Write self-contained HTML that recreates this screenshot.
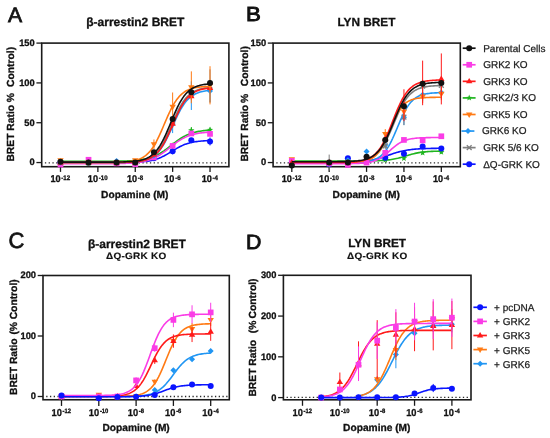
<!DOCTYPE html>
<html><head><meta charset="utf-8"><style>
html,body{margin:0;padding:0;background:#fff;}
svg{display:block;will-change:transform;}
text{font-family:"Liberation Sans", sans-serif;text-rendering:geometricPrecision;}
text[font-weight="bold"]{stroke:#111;stroke-width:0.3px;}
</style></head><body>
<svg width="550" height="438" viewBox="0 0 550 438" font-family='"Liberation Sans", sans-serif'>
<rect width="550" height="438" fill="#fff"/>
<text transform="translate(8.0,21.7) scale(1.02,1)" font-size="20.8" font-weight="normal" fill="#111" stroke="#111" stroke-width="0.75">A</text>
<text transform="translate(246.0,21.4) scale(1.09,1)" font-size="20.4" font-weight="normal" fill="#111" stroke="#111" stroke-width="0.95">B</text>
<text x="8.4" y="247.6" font-size="22" font-weight="normal" fill="#111" stroke="#111" stroke-width="0.7">C</text>
<text transform="translate(246.1,249.4) scale(1.03,1)" font-size="20.6" font-weight="normal" fill="#111" stroke="#111" stroke-width="0.9">D</text>
<text x="135.3" y="25.7" text-anchor="middle" font-size="12" font-weight="bold" fill="#111">β-arrestin2 BRET</text>
<text x="366.4" y="25.9" text-anchor="middle" font-size="11.8" font-weight="bold" fill="#111">LYN BRET</text>
<text x="136.9" y="247.5" text-anchor="middle" font-size="12" font-weight="bold" fill="#111">β-arrestin2 BRET</text>
<text transform="translate(136.1,259.2) scale(1.03,0.96)" text-anchor="middle" font-size="9.7" textLength="58.6" lengthAdjust="spacing" font-weight="bold" fill="#111" style="stroke-width:0.15px">ΔQ-GRK KO</text>
<text x="377.1" y="247.3" text-anchor="middle" font-size="11.8" font-weight="bold" fill="#111">LYN BRET</text>
<text transform="translate(377.1,259.2) scale(1.03,0.96)" text-anchor="middle" font-size="9.7" textLength="58.6" lengthAdjust="spacing" font-weight="bold" fill="#111" style="stroke-width:0.15px">ΔQ-GRK KO</text>
<rect x="41.7" y="43.1" width="187.20" height="123.60" fill="none" stroke="#1a1a1a" stroke-width="1.6"/>
<line x1="44.900000000000006" y1="162.90" x2="227.9" y2="162.90" stroke="#2a2a2a" stroke-width="1.35" stroke-dasharray="1.3 2.45"/>
<line x1="36.400000000000006" y1="162.55" x2="41.7" y2="162.55" stroke="#1a1a1a" stroke-width="1.3"/>
<text x="34.7" y="165.45" text-anchor="end" font-size="9.3" font-weight="bold" fill="#111">0</text>
<line x1="36.400000000000006" y1="122.73" x2="41.7" y2="122.73" stroke="#1a1a1a" stroke-width="1.3"/>
<text x="34.7" y="125.63" text-anchor="end" font-size="9.3" font-weight="bold" fill="#111">50</text>
<line x1="36.400000000000006" y1="82.92" x2="41.7" y2="82.92" stroke="#1a1a1a" stroke-width="1.3"/>
<text x="34.7" y="85.82" text-anchor="end" font-size="9.3" font-weight="bold" fill="#111">100</text>
<line x1="36.400000000000006" y1="43.10" x2="41.7" y2="43.10" stroke="#1a1a1a" stroke-width="1.3"/>
<text x="34.7" y="46.00" text-anchor="end" font-size="9.3" font-weight="bold" fill="#111">150</text>
<line x1="60.50" y1="166.7" x2="60.50" y2="171.89999999999998" stroke="#1a1a1a" stroke-width="1.3"/>
<text transform="translate(60.30,182.0) scale(0.93,1.0)" text-anchor="middle" font-size="9.8" font-weight="bold" fill="#111">10<tspan font-size="6.6" dx="0.8" dy="-2.4">-12</tspan></text>
<line x1="97.88" y1="166.7" x2="97.88" y2="171.89999999999998" stroke="#1a1a1a" stroke-width="1.3"/>
<text transform="translate(97.68,182.0) scale(0.93,1.0)" text-anchor="middle" font-size="9.8" font-weight="bold" fill="#111">10<tspan font-size="6.6" dx="0.8" dy="-2.4">-10</tspan></text>
<line x1="135.26" y1="166.7" x2="135.26" y2="171.89999999999998" stroke="#1a1a1a" stroke-width="1.3"/>
<text transform="translate(135.06,182.0) scale(0.93,1.0)" text-anchor="middle" font-size="9.8" font-weight="bold" fill="#111">10<tspan font-size="6.6" dx="0.8" dy="-2.4">-8</tspan></text>
<line x1="172.64" y1="166.7" x2="172.64" y2="171.89999999999998" stroke="#1a1a1a" stroke-width="1.3"/>
<text transform="translate(172.44,182.0) scale(0.93,1.0)" text-anchor="middle" font-size="9.8" font-weight="bold" fill="#111">10<tspan font-size="6.6" dx="0.8" dy="-2.4">-6</tspan></text>
<line x1="210.02" y1="166.7" x2="210.02" y2="171.89999999999998" stroke="#1a1a1a" stroke-width="1.3"/>
<text transform="translate(209.82,182.0) scale(0.93,1.0)" text-anchor="middle" font-size="9.8" font-weight="bold" fill="#111">10<tspan font-size="6.6" dx="0.8" dy="-2.4">-4</tspan></text>
<rect x="273.1" y="43.1" width="187.20" height="123.60" fill="none" stroke="#1a1a1a" stroke-width="1.6"/>
<line x1="276.3" y1="162.90" x2="459.3" y2="162.90" stroke="#2a2a2a" stroke-width="1.35" stroke-dasharray="1.3 2.45"/>
<line x1="267.8" y1="162.55" x2="273.1" y2="162.55" stroke="#1a1a1a" stroke-width="1.3"/>
<text x="266.1" y="165.45" text-anchor="end" font-size="9.3" font-weight="bold" fill="#111">0</text>
<line x1="267.8" y1="122.73" x2="273.1" y2="122.73" stroke="#1a1a1a" stroke-width="1.3"/>
<text x="266.1" y="125.63" text-anchor="end" font-size="9.3" font-weight="bold" fill="#111">50</text>
<line x1="267.8" y1="82.92" x2="273.1" y2="82.92" stroke="#1a1a1a" stroke-width="1.3"/>
<text x="266.1" y="85.82" text-anchor="end" font-size="9.3" font-weight="bold" fill="#111">100</text>
<line x1="267.8" y1="43.10" x2="273.1" y2="43.10" stroke="#1a1a1a" stroke-width="1.3"/>
<text x="266.1" y="46.00" text-anchor="end" font-size="9.3" font-weight="bold" fill="#111">150</text>
<line x1="291.80" y1="166.7" x2="291.80" y2="171.89999999999998" stroke="#1a1a1a" stroke-width="1.3"/>
<text transform="translate(291.60,182.0) scale(0.93,1.0)" text-anchor="middle" font-size="9.8" font-weight="bold" fill="#111">10<tspan font-size="6.6" dx="0.8" dy="-2.4">-12</tspan></text>
<line x1="329.18" y1="166.7" x2="329.18" y2="171.89999999999998" stroke="#1a1a1a" stroke-width="1.3"/>
<text transform="translate(328.98,182.0) scale(0.93,1.0)" text-anchor="middle" font-size="9.8" font-weight="bold" fill="#111">10<tspan font-size="6.6" dx="0.8" dy="-2.4">-10</tspan></text>
<line x1="366.56" y1="166.7" x2="366.56" y2="171.89999999999998" stroke="#1a1a1a" stroke-width="1.3"/>
<text transform="translate(366.36,182.0) scale(0.93,1.0)" text-anchor="middle" font-size="9.8" font-weight="bold" fill="#111">10<tspan font-size="6.6" dx="0.8" dy="-2.4">-8</tspan></text>
<line x1="403.94" y1="166.7" x2="403.94" y2="171.89999999999998" stroke="#1a1a1a" stroke-width="1.3"/>
<text transform="translate(403.74,182.0) scale(0.93,1.0)" text-anchor="middle" font-size="9.8" font-weight="bold" fill="#111">10<tspan font-size="6.6" dx="0.8" dy="-2.4">-6</tspan></text>
<line x1="441.32" y1="166.7" x2="441.32" y2="171.89999999999998" stroke="#1a1a1a" stroke-width="1.3"/>
<text transform="translate(441.12,182.0) scale(0.93,1.0)" text-anchor="middle" font-size="9.8" font-weight="bold" fill="#111">10<tspan font-size="6.6" dx="0.8" dy="-2.4">-4</tspan></text>
<rect x="43.0" y="275.5" width="186.30" height="124.25" fill="none" stroke="#1a1a1a" stroke-width="1.6"/>
<line x1="46.2" y1="396.50" x2="228.3" y2="396.50" stroke="#2a2a2a" stroke-width="1.35" stroke-dasharray="1.3 2.45"/>
<line x1="37.7" y1="396.50" x2="43.0" y2="396.50" stroke="#1a1a1a" stroke-width="1.3"/>
<text x="36.0" y="399.40" text-anchor="end" font-size="9.3" font-weight="bold" fill="#111">0</text>
<line x1="37.7" y1="336.00" x2="43.0" y2="336.00" stroke="#1a1a1a" stroke-width="1.3"/>
<text x="36.0" y="338.90" text-anchor="end" font-size="9.3" font-weight="bold" fill="#111">100</text>
<line x1="37.7" y1="275.50" x2="43.0" y2="275.50" stroke="#1a1a1a" stroke-width="1.3"/>
<text x="36.0" y="278.40" text-anchor="end" font-size="9.3" font-weight="bold" fill="#111">200</text>
<line x1="61.50" y1="399.75" x2="61.50" y2="405.95" stroke="#1a1a1a" stroke-width="1.3"/>
<text transform="translate(61.30,415.6) scale(0.93,1.0)" text-anchor="middle" font-size="10.0" font-weight="bold" fill="#111">10<tspan font-size="6.3" dx="0.8" dy="-2.7">-12</tspan></text>
<line x1="98.80" y1="399.75" x2="98.80" y2="405.95" stroke="#1a1a1a" stroke-width="1.3"/>
<text transform="translate(98.60,415.6) scale(0.93,1.0)" text-anchor="middle" font-size="10.0" font-weight="bold" fill="#111">10<tspan font-size="6.3" dx="0.8" dy="-2.7">-10</tspan></text>
<line x1="136.10" y1="399.75" x2="136.10" y2="405.95" stroke="#1a1a1a" stroke-width="1.3"/>
<text transform="translate(135.90,415.6) scale(0.93,1.0)" text-anchor="middle" font-size="10.0" font-weight="bold" fill="#111">10<tspan font-size="6.3" dx="0.8" dy="-2.7">-8</tspan></text>
<line x1="173.40" y1="399.75" x2="173.40" y2="405.95" stroke="#1a1a1a" stroke-width="1.3"/>
<text transform="translate(173.20,415.6) scale(0.93,1.0)" text-anchor="middle" font-size="10.0" font-weight="bold" fill="#111">10<tspan font-size="6.3" dx="0.8" dy="-2.7">-6</tspan></text>
<line x1="210.70" y1="399.75" x2="210.70" y2="405.95" stroke="#1a1a1a" stroke-width="1.3"/>
<text transform="translate(210.50,415.6) scale(0.93,1.0)" text-anchor="middle" font-size="10.0" font-weight="bold" fill="#111">10<tspan font-size="6.3" dx="0.8" dy="-2.7">-4</tspan></text>
<rect x="283.4" y="275.3" width="187.60" height="124.50" fill="none" stroke="#1a1a1a" stroke-width="1.6"/>
<line x1="286.59999999999997" y1="397.40" x2="470.0" y2="397.40" stroke="#2a2a2a" stroke-width="1.35" stroke-dasharray="1.3 2.45"/>
<line x1="278.09999999999997" y1="397.60" x2="283.4" y2="397.60" stroke="#1a1a1a" stroke-width="1.3"/>
<text x="276.4" y="400.50" text-anchor="end" font-size="9.3" font-weight="bold" fill="#111">0</text>
<line x1="278.09999999999997" y1="356.83" x2="283.4" y2="356.83" stroke="#1a1a1a" stroke-width="1.3"/>
<text x="276.4" y="359.73" text-anchor="end" font-size="9.3" font-weight="bold" fill="#111">100</text>
<line x1="278.09999999999997" y1="316.07" x2="283.4" y2="316.07" stroke="#1a1a1a" stroke-width="1.3"/>
<text x="276.4" y="318.97" text-anchor="end" font-size="9.3" font-weight="bold" fill="#111">200</text>
<line x1="278.09999999999997" y1="275.30" x2="283.4" y2="275.30" stroke="#1a1a1a" stroke-width="1.3"/>
<text x="276.4" y="278.20" text-anchor="end" font-size="9.3" font-weight="bold" fill="#111">300</text>
<line x1="302.50" y1="399.8" x2="302.50" y2="405.8" stroke="#1a1a1a" stroke-width="1.3"/>
<text transform="translate(302.30,415.6) scale(0.93,1.0)" text-anchor="middle" font-size="10.0" font-weight="bold" fill="#111">10<tspan font-size="6.3" dx="0.8" dy="-2.7">-12</tspan></text>
<line x1="339.85" y1="399.8" x2="339.85" y2="405.8" stroke="#1a1a1a" stroke-width="1.3"/>
<text transform="translate(339.65,415.6) scale(0.93,1.0)" text-anchor="middle" font-size="10.0" font-weight="bold" fill="#111">10<tspan font-size="6.3" dx="0.8" dy="-2.7">-10</tspan></text>
<line x1="377.20" y1="399.8" x2="377.20" y2="405.8" stroke="#1a1a1a" stroke-width="1.3"/>
<text transform="translate(377.00,415.6) scale(0.93,1.0)" text-anchor="middle" font-size="10.0" font-weight="bold" fill="#111">10<tspan font-size="6.3" dx="0.8" dy="-2.7">-8</tspan></text>
<line x1="414.55" y1="399.8" x2="414.55" y2="405.8" stroke="#1a1a1a" stroke-width="1.3"/>
<text transform="translate(414.35,415.6) scale(0.93,1.0)" text-anchor="middle" font-size="10.0" font-weight="bold" fill="#111">10<tspan font-size="6.3" dx="0.8" dy="-2.7">-6</tspan></text>
<line x1="451.90" y1="399.8" x2="451.90" y2="405.8" stroke="#1a1a1a" stroke-width="1.3"/>
<text transform="translate(451.70,415.6) scale(0.93,1.0)" text-anchor="middle" font-size="10.0" font-weight="bold" fill="#111">10<tspan font-size="6.3" dx="0.8" dy="-2.7">-4</tspan></text>
<text x="134.8" y="197.6" text-anchor="middle" font-size="10.2" font-weight="bold" fill="#111">Dopamine (M)</text>
<text x="366.3" y="197.6" text-anchor="middle" font-size="10.2" font-weight="bold" fill="#111">Dopamine (M)</text>
<text x="136.1" y="430.8" text-anchor="middle" font-size="10.2" font-weight="bold" fill="#111">Dopamine (M)</text>
<text x="376.8" y="430.8" text-anchor="middle" font-size="10.2" font-weight="bold" fill="#111">Dopamine (M)</text>
<text transform="translate(13.6,161.6) rotate(-90)" font-size="10.3" font-weight="bold" fill="#111">BRET Ratio</text>
<text transform="translate(13.6,102.3) rotate(-90)" font-size="10.3" font-weight="bold" fill="#111">%</text>
<text transform="translate(13.6,46.900000000000006) rotate(-90)" text-anchor="end" font-size="10.3" font-weight="bold" fill="#111">Control)</text>
<text transform="translate(248.0,161.6) rotate(-90)" font-size="10.3" font-weight="bold" fill="#111">BRET Ratio</text>
<text transform="translate(248.0,103.1) rotate(-90)" font-size="10.3" font-weight="bold" fill="#111">%</text>
<text transform="translate(248.0,46.1) rotate(-90)" text-anchor="end" font-size="10.3" font-weight="bold" fill="#111">Control)</text>
<text transform="translate(16.8,395.0) rotate(-90)" font-size="10.3" font-weight="bold" fill="#111">BRET Ratio</text>
<text transform="translate(16.8,334.6) rotate(-90)" font-size="10.3" font-weight="bold" fill="#111">(%</text>
<text transform="translate(16.8,279.3) rotate(-90)" text-anchor="end" font-size="10.3" font-weight="bold" fill="#111">Control)</text>
<text transform="translate(256.0,396.59999999999997) rotate(-90)" font-size="10.3" font-weight="bold" fill="#111">BRET Ratio</text>
<text transform="translate(256.0,333.3) rotate(-90)" font-size="10.3" font-weight="bold" fill="#111">(%</text>
<text transform="translate(256.0,278.5) rotate(-90)" text-anchor="end" font-size="10.3" font-weight="bold" fill="#111">Control)</text>
<line x1="172.64" y1="147.82" x2="172.64" y2="143.04" stroke="#1fb51f" stroke-width="1"/>
<line x1="191.33" y1="132.69" x2="191.33" y2="127.11" stroke="#1fb51f" stroke-width="1"/>
<line x1="210.02" y1="132.29" x2="210.02" y2="127.51" stroke="#1fb51f" stroke-width="1"/>
<polyline points="60.50,161.35 61.75,161.35 62.99,161.35 64.24,161.35 65.48,161.35 66.73,161.35 67.98,161.35 69.22,161.35 70.47,161.35 71.71,161.35 72.96,161.35 74.21,161.35 75.45,161.35 76.70,161.35 77.94,161.35 79.19,161.35 80.44,161.35 81.68,161.35 82.93,161.35 84.17,161.35 85.42,161.35 86.67,161.35 87.91,161.35 89.16,161.35 90.40,161.34 91.65,161.34 92.90,161.34 94.14,161.34 95.39,161.34 96.63,161.33 97.88,161.33 99.13,161.33 100.37,161.33 101.62,161.32 102.86,161.32 104.11,161.31 105.36,161.31 106.60,161.30 107.85,161.29 109.09,161.29 110.34,161.28 111.59,161.27 112.83,161.25 114.08,161.24 115.32,161.23 116.57,161.21 117.82,161.19 119.06,161.17 120.31,161.14 121.55,161.12 122.80,161.09 124.05,161.05 125.29,161.01 126.54,160.97 127.78,160.92 129.03,160.86 130.28,160.80 131.52,160.73 132.77,160.64 134.01,160.55 135.26,160.45 136.51,160.34 137.75,160.21 139.00,160.07 140.24,159.91 141.49,159.73 142.74,159.52 143.98,159.30 145.23,159.05 146.47,158.78 147.72,158.47 148.97,158.13 150.21,157.76 151.46,157.34 152.70,156.89 153.95,156.40 155.20,155.86 156.44,155.28 157.69,154.66 158.93,153.98 160.18,153.26 161.43,152.50 162.67,151.69 163.92,150.85 165.16,149.96 166.41,149.05 167.66,148.11 168.90,147.15 170.15,146.17 171.39,145.19 172.64,144.21 173.89,143.25 175.13,142.29 176.38,141.36 177.62,140.46 178.87,139.59 180.12,138.76 181.36,137.97 182.61,137.22 183.85,136.52 185.10,135.86 186.35,135.26 187.59,134.69 188.84,134.18 190.08,133.70 191.33,133.26 192.58,132.87 193.82,132.51 195.07,132.18 196.31,131.89 197.56,131.62 198.81,131.38 200.05,131.17 201.30,130.98 202.54,130.81 203.79,130.65 205.04,130.52 206.28,130.39 207.53,130.28 208.77,130.19 210.02,130.10" fill="none" stroke="#1fb51f" stroke-width="1.6" stroke-linejoin="round"/>
<polygon points="60.50,158.45 61.32,160.62 63.64,160.73 61.83,162.19 62.44,164.42 60.50,163.15 58.56,164.42 59.17,162.19 57.36,160.73 59.68,160.62" fill="#1fb51f"/>
<polygon points="88.53,160.05 89.36,162.21 91.67,162.33 89.87,163.78 90.47,166.02 88.53,164.75 86.60,166.02 87.20,163.78 85.40,162.33 87.71,162.21" fill="#1fb51f"/>
<polygon points="116.57,159.25 117.39,161.42 119.71,161.53 117.90,162.98 118.51,165.22 116.57,163.95 114.63,165.22 115.24,162.98 113.43,161.53 115.75,161.42" fill="#1fb51f"/>
<polygon points="135.26,159.25 136.08,161.42 138.40,161.53 136.59,162.98 137.20,165.22 135.26,163.95 133.32,165.22 133.93,162.98 132.12,161.53 134.44,161.42" fill="#1fb51f"/>
<polygon points="153.95,154.47 154.77,156.64 157.09,156.75 155.28,158.20 155.89,160.44 153.95,159.17 152.01,160.44 152.62,158.20 150.81,156.75 153.13,156.64" fill="#1fb51f"/>
<polygon points="172.64,142.13 173.46,144.30 175.78,144.41 173.97,145.86 174.58,148.10 172.64,146.83 170.70,148.10 171.31,145.86 169.50,144.41 171.82,144.30" fill="#1fb51f"/>
<polygon points="191.33,127.00 192.15,129.17 194.47,129.28 192.66,130.73 193.27,132.97 191.33,131.70 189.39,132.97 190.00,130.73 188.19,129.28 190.51,129.17" fill="#1fb51f"/>
<polygon points="210.02,126.60 210.84,128.77 213.16,128.88 211.35,130.33 211.96,132.57 210.02,131.30 208.08,132.57 208.69,130.33 206.88,128.88 209.20,128.77" fill="#1fb51f"/>
<line x1="172.64" y1="154.35" x2="172.64" y2="147.98" stroke="#0a14ff" stroke-width="1"/>
<line x1="191.33" y1="142.64" x2="191.33" y2="137.86" stroke="#0a14ff" stroke-width="1"/>
<line x1="210.02" y1="145.43" x2="210.02" y2="137.47" stroke="#0a14ff" stroke-width="1"/>
<polyline points="60.50,162.55 61.75,162.55 62.99,162.55 64.24,162.55 65.48,162.55 66.73,162.55 67.98,162.55 69.22,162.55 70.47,162.55 71.71,162.55 72.96,162.55 74.21,162.55 75.45,162.55 76.70,162.55 77.94,162.55 79.19,162.55 80.44,162.55 81.68,162.55 82.93,162.55 84.17,162.55 85.42,162.55 86.67,162.55 87.91,162.55 89.16,162.55 90.40,162.55 91.65,162.55 92.90,162.55 94.14,162.55 95.39,162.55 96.63,162.54 97.88,162.54 99.13,162.54 100.37,162.54 101.62,162.54 102.86,162.54 104.11,162.54 105.36,162.54 106.60,162.53 107.85,162.53 109.09,162.53 110.34,162.53 111.59,162.52 112.83,162.52 114.08,162.51 115.32,162.51 116.57,162.50 117.82,162.49 119.06,162.49 120.31,162.48 121.55,162.46 122.80,162.45 124.05,162.44 125.29,162.42 126.54,162.40 127.78,162.38 129.03,162.36 130.28,162.33 131.52,162.29 132.77,162.26 134.01,162.21 135.26,162.16 136.51,162.11 137.75,162.04 139.00,161.97 140.24,161.89 141.49,161.79 142.74,161.69 143.98,161.56 145.23,161.43 146.47,161.27 147.72,161.09 148.97,160.89 150.21,160.67 151.46,160.41 152.70,160.13 153.95,159.82 155.20,159.47 156.44,159.08 157.69,158.66 158.93,158.20 160.18,157.69 161.43,157.15 162.67,156.56 163.92,155.94 165.16,155.28 166.41,154.58 167.66,153.86 168.90,153.12 170.15,152.36 171.39,151.59 172.64,150.82 173.89,150.06 175.13,149.31 176.38,148.58 177.62,147.87 178.87,147.19 180.12,146.55 181.36,145.94 182.61,145.38 183.85,144.85 185.10,144.37 186.35,143.93 187.59,143.52 188.84,143.15 190.08,142.82 191.33,142.53 192.58,142.26 193.82,142.02 195.07,141.81 196.31,141.62 197.56,141.45 198.81,141.31 200.05,141.18 201.30,141.06 202.54,140.96 203.79,140.87 205.04,140.79 206.28,140.72 207.53,140.66 208.77,140.61 210.02,140.57" fill="none" stroke="#0a14ff" stroke-width="1.6" stroke-linejoin="round"/>
<circle cx="60.50" cy="162.55" r="3.00" fill="#0a14ff"/>
<circle cx="88.53" cy="162.55" r="3.00" fill="#0a14ff"/>
<circle cx="116.57" cy="162.55" r="3.00" fill="#0a14ff"/>
<circle cx="135.26" cy="162.55" r="3.00" fill="#0a14ff"/>
<circle cx="153.95" cy="158.17" r="3.00" fill="#0a14ff"/>
<circle cx="172.64" cy="151.16" r="3.00" fill="#0a14ff"/>
<circle cx="191.33" cy="140.25" r="3.00" fill="#0a14ff"/>
<circle cx="210.02" cy="141.45" r="3.00" fill="#0a14ff"/>
<line x1="172.64" y1="147.50" x2="172.64" y2="144.31" stroke="#fa3ce6" stroke-width="1"/>
<line x1="191.33" y1="135.87" x2="191.33" y2="131.09" stroke="#fa3ce6" stroke-width="1"/>
<line x1="210.02" y1="136.27" x2="210.02" y2="131.49" stroke="#fa3ce6" stroke-width="1"/>
<polyline points="60.50,163.74 61.75,163.74 62.99,163.74 64.24,163.74 65.48,163.74 66.73,163.74 67.98,163.74 69.22,163.74 70.47,163.74 71.71,163.74 72.96,163.74 74.21,163.74 75.45,163.74 76.70,163.74 77.94,163.74 79.19,163.74 80.44,163.74 81.68,163.74 82.93,163.74 84.17,163.74 85.42,163.74 86.67,163.74 87.91,163.73 89.16,163.73 90.40,163.73 91.65,163.73 92.90,163.73 94.14,163.73 95.39,163.72 96.63,163.72 97.88,163.72 99.13,163.71 100.37,163.71 101.62,163.71 102.86,163.70 104.11,163.70 105.36,163.69 106.60,163.68 107.85,163.67 109.09,163.66 110.34,163.65 111.59,163.64 112.83,163.63 114.08,163.61 115.32,163.60 116.57,163.58 117.82,163.55 119.06,163.53 120.31,163.50 121.55,163.47 122.80,163.43 124.05,163.39 125.29,163.35 126.54,163.30 127.78,163.24 129.03,163.18 130.28,163.10 131.52,163.02 132.77,162.93 134.01,162.83 135.26,162.71 136.51,162.58 137.75,162.43 139.00,162.27 140.24,162.09 141.49,161.88 142.74,161.66 143.98,161.40 145.23,161.12 146.47,160.81 147.72,160.47 148.97,160.09 150.21,159.67 151.46,159.21 152.70,158.71 153.95,158.17 155.20,157.58 156.44,156.95 157.69,156.26 158.93,155.54 160.18,154.76 161.43,153.94 162.67,153.09 163.92,152.19 165.16,151.27 166.41,150.32 167.66,149.34 168.90,148.36 170.15,147.37 171.39,146.38 172.64,145.40 173.89,144.44 175.13,143.50 176.38,142.59 177.62,141.72 178.87,140.88 180.12,140.08 181.36,139.33 182.61,138.63 183.85,137.97 185.10,137.36 186.35,136.79 187.59,136.27 188.84,135.79 190.08,135.35 191.33,134.95 192.58,134.59 193.82,134.27 195.07,133.97 196.31,133.70 197.56,133.46 198.81,133.25 200.05,133.05 201.30,132.88 202.54,132.73 203.79,132.59 205.04,132.47 206.28,132.36 207.53,132.26 208.77,132.17 210.02,132.10" fill="none" stroke="#fa3ce6" stroke-width="1.6" stroke-linejoin="round"/>
<rect x="57.65" y="161.69" width="5.70" height="5.70" fill="#fa3ce6"/>
<rect x="85.69" y="156.91" width="5.70" height="5.70" fill="#fa3ce6"/>
<rect x="113.72" y="160.50" width="5.70" height="5.70" fill="#fa3ce6"/>
<rect x="132.41" y="161.29" width="5.70" height="5.70" fill="#fa3ce6"/>
<rect x="151.10" y="154.52" width="5.70" height="5.70" fill="#fa3ce6"/>
<rect x="169.79" y="143.06" width="5.70" height="5.70" fill="#fa3ce6"/>
<rect x="188.48" y="130.63" width="5.70" height="5.70" fill="#fa3ce6"/>
<rect x="207.17" y="131.03" width="5.70" height="5.70" fill="#fa3ce6"/>
<line x1="172.64" y1="133.09" x2="172.64" y2="115.57" stroke="#2196f3" stroke-width="1"/>
<line x1="191.33" y1="109.99" x2="191.33" y2="81.32" stroke="#2196f3" stroke-width="1"/>
<line x1="210.02" y1="102.03" x2="210.02" y2="79.73" stroke="#2196f3" stroke-width="1"/>
<polyline points="60.50,162.55 61.75,162.55 62.99,162.55 64.24,162.55 65.48,162.55 66.73,162.55 67.98,162.55 69.22,162.55 70.47,162.55 71.71,162.55 72.96,162.55 74.21,162.55 75.45,162.55 76.70,162.55 77.94,162.55 79.19,162.55 80.44,162.55 81.68,162.55 82.93,162.55 84.17,162.55 85.42,162.55 86.67,162.55 87.91,162.55 89.16,162.55 90.40,162.55 91.65,162.55 92.90,162.55 94.14,162.55 95.39,162.54 96.63,162.54 97.88,162.54 99.13,162.54 100.37,162.54 101.62,162.54 102.86,162.54 104.11,162.53 105.36,162.53 106.60,162.53 107.85,162.53 109.09,162.52 110.34,162.52 111.59,162.51 112.83,162.50 114.08,162.50 115.32,162.49 116.57,162.48 117.82,162.47 119.06,162.45 120.31,162.43 121.55,162.42 122.80,162.39 124.05,162.37 125.29,162.34 126.54,162.30 127.78,162.26 129.03,162.21 130.28,162.16 131.52,162.09 132.77,162.02 134.01,161.93 135.26,161.83 136.51,161.71 137.75,161.57 139.00,161.41 140.24,161.23 141.49,161.01 142.74,160.76 143.98,160.48 145.23,160.14 146.47,159.76 147.72,159.32 148.97,158.81 150.21,158.23 151.46,157.56 152.70,156.79 153.95,155.93 155.20,154.94 156.44,153.83 157.69,152.58 158.93,151.19 160.18,149.63 161.43,147.92 162.67,146.04 163.92,144.00 165.16,141.80 166.41,139.45 167.66,136.96 168.90,134.36 170.15,131.67 171.39,128.91 172.64,126.12 173.89,123.33 175.13,120.57 176.38,117.87 177.62,115.27 178.87,112.78 180.12,110.43 181.36,108.23 182.61,106.19 183.85,104.31 185.10,102.60 186.35,101.05 187.59,99.65 188.84,98.41 190.08,97.29 191.33,96.31 192.58,95.44 193.82,94.68 195.07,94.01 196.31,93.43 197.56,92.92 198.81,92.48 200.05,92.09 201.30,91.76 202.54,91.47 203.79,91.22 205.04,91.01 206.28,90.82 207.53,90.66 208.77,90.53 210.02,90.41" fill="none" stroke="#2196f3" stroke-width="1.6" stroke-linejoin="round"/>
<path d="M57.50,162.55L60.50,159.55L63.50,162.55L60.50,165.55Z" fill="#2196f3"/>
<path d="M85.53,162.55L88.53,159.55L91.53,162.55L88.53,165.55Z" fill="#2196f3"/>
<path d="M113.57,160.96L116.57,157.96L119.57,160.96L116.57,163.96Z" fill="#2196f3"/>
<path d="M132.26,162.55L135.26,159.55L138.26,162.55L135.26,165.55Z" fill="#2196f3"/>
<path d="M150.95,155.38L153.95,152.38L156.95,155.38L153.95,158.38Z" fill="#2196f3"/>
<path d="M169.64,124.33L172.64,121.33L175.64,124.33L172.64,127.33Z" fill="#2196f3"/>
<path d="M188.33,95.66L191.33,92.66L194.33,95.66L191.33,98.66Z" fill="#2196f3"/>
<path d="M207.02,90.88L210.02,87.88L213.02,90.88L210.02,93.88Z" fill="#2196f3"/>
<line x1="172.64" y1="125.92" x2="172.64" y2="116.36" stroke="#7f7f7f" stroke-width="1"/>
<line x1="191.33" y1="98.05" x2="191.33" y2="88.49" stroke="#7f7f7f" stroke-width="1"/>
<line x1="210.02" y1="102.83" x2="210.02" y2="69.38" stroke="#7f7f7f" stroke-width="1"/>
<polyline points="60.50,162.55 61.75,162.55 62.99,162.55 64.24,162.55 65.48,162.55 66.73,162.55 67.98,162.55 69.22,162.55 70.47,162.55 71.71,162.55 72.96,162.55 74.21,162.55 75.45,162.55 76.70,162.55 77.94,162.55 79.19,162.55 80.44,162.55 81.68,162.55 82.93,162.55 84.17,162.55 85.42,162.55 86.67,162.55 87.91,162.55 89.16,162.55 90.40,162.55 91.65,162.55 92.90,162.55 94.14,162.54 95.39,162.54 96.63,162.54 97.88,162.54 99.13,162.54 100.37,162.54 101.62,162.54 102.86,162.53 104.11,162.53 105.36,162.53 106.60,162.53 107.85,162.52 109.09,162.52 110.34,162.51 111.59,162.50 112.83,162.50 114.08,162.49 115.32,162.48 116.57,162.47 117.82,162.45 119.06,162.43 120.31,162.42 121.55,162.39 122.80,162.37 124.05,162.34 125.29,162.30 126.54,162.26 127.78,162.21 129.03,162.16 130.28,162.09 131.52,162.02 132.77,161.93 134.01,161.83 135.26,161.71 136.51,161.57 137.75,161.41 139.00,161.23 140.24,161.01 141.49,160.76 142.74,160.48 143.98,160.14 145.23,159.76 146.47,159.32 147.72,158.81 148.97,158.22 150.21,157.55 151.46,156.78 152.70,155.91 153.95,154.92 155.20,153.80 156.44,152.54 157.69,151.13 158.93,149.56 160.18,147.82 161.43,145.92 162.67,143.84 163.92,141.59 165.16,139.19 166.41,136.64 167.66,133.97 168.90,131.19 170.15,128.34 171.39,125.45 172.64,122.55 173.89,119.67 175.13,116.86 176.38,114.13 177.62,111.51 178.87,109.04 180.12,106.71 181.36,104.55 182.61,102.56 183.85,100.74 185.10,99.08 186.35,97.60 187.59,96.26 188.84,95.07 190.08,94.02 191.33,93.09 192.58,92.27 193.82,91.55 195.07,90.93 196.31,90.38 197.56,89.90 198.81,89.49 200.05,89.13 201.30,88.82 202.54,88.55 203.79,88.32 205.04,88.12 206.28,87.95 207.53,87.80 208.77,87.68 210.02,87.57" fill="none" stroke="#7f7f7f" stroke-width="1.6" stroke-linejoin="round"/>
<path d="M58.10,160.15L62.90,164.95M58.10,164.95L62.90,160.15" stroke="#7f7f7f" stroke-width="1.3" fill="none"/>
<path d="M86.13,160.15L90.94,164.95M86.13,164.95L90.94,160.15" stroke="#7f7f7f" stroke-width="1.3" fill="none"/>
<path d="M114.17,160.15L118.97,164.95M114.17,164.95L118.97,160.15" stroke="#7f7f7f" stroke-width="1.3" fill="none"/>
<path d="M132.86,160.15L137.66,164.95M132.86,164.95L137.66,160.15" stroke="#7f7f7f" stroke-width="1.3" fill="none"/>
<path d="M151.55,151.39L156.35,156.19M151.55,156.19L156.35,151.39" stroke="#7f7f7f" stroke-width="1.3" fill="none"/>
<path d="M170.24,118.74L175.04,123.54M170.24,123.54L175.04,118.74" stroke="#7f7f7f" stroke-width="1.3" fill="none"/>
<path d="M188.93,90.87L193.73,95.67M188.93,95.67L193.73,90.87" stroke="#7f7f7f" stroke-width="1.3" fill="none"/>
<path d="M207.62,83.70L212.42,88.50M207.62,88.50L212.42,83.70" stroke="#7f7f7f" stroke-width="1.3" fill="none"/>
<line x1="172.64" y1="127.75" x2="172.64" y2="119.79" stroke="#ff1a1a" stroke-width="1"/>
<line x1="191.33" y1="100.12" x2="191.33" y2="92.15" stroke="#ff1a1a" stroke-width="1"/>
<line x1="210.02" y1="91.28" x2="210.02" y2="84.91" stroke="#ff1a1a" stroke-width="1"/>
<polyline points="60.50,162.55 61.75,162.55 62.99,162.55 64.24,162.55 65.48,162.55 66.73,162.55 67.98,162.55 69.22,162.55 70.47,162.55 71.71,162.55 72.96,162.55 74.21,162.55 75.45,162.55 76.70,162.55 77.94,162.55 79.19,162.55 80.44,162.55 81.68,162.55 82.93,162.55 84.17,162.55 85.42,162.55 86.67,162.55 87.91,162.55 89.16,162.55 90.40,162.55 91.65,162.55 92.90,162.55 94.14,162.55 95.39,162.54 96.63,162.54 97.88,162.54 99.13,162.54 100.37,162.54 101.62,162.54 102.86,162.54 104.11,162.53 105.36,162.53 106.60,162.53 107.85,162.52 109.09,162.52 110.34,162.52 111.59,162.51 112.83,162.50 114.08,162.49 115.32,162.49 116.57,162.47 117.82,162.46 119.06,162.45 120.31,162.43 121.55,162.41 122.80,162.39 124.05,162.36 125.29,162.33 126.54,162.29 127.78,162.25 129.03,162.20 130.28,162.14 131.52,162.08 132.77,162.00 134.01,161.91 135.26,161.80 136.51,161.68 137.75,161.54 139.00,161.38 140.24,161.18 141.49,160.96 142.74,160.71 143.98,160.41 145.23,160.07 146.47,159.67 147.72,159.21 148.97,158.69 150.21,158.08 151.46,157.39 152.70,156.61 153.95,155.71 155.20,154.69 156.44,153.54 157.69,152.25 158.93,150.81 160.18,149.21 161.43,147.44 162.67,145.50 163.92,143.39 165.16,141.12 166.41,138.69 167.66,136.13 168.90,133.44 170.15,130.65 171.39,127.81 172.64,124.92 173.89,122.04 175.13,119.19 176.38,116.41 177.62,113.72 178.87,111.15 180.12,108.72 181.36,106.45 182.61,104.34 183.85,102.40 185.10,100.64 186.35,99.03 187.59,97.59 188.84,96.30 190.08,95.15 191.33,94.14 192.58,93.24 193.82,92.45 195.07,91.76 196.31,91.16 197.56,90.63 198.81,90.18 200.05,89.78 201.30,89.44 202.54,89.14 203.79,88.88 205.04,88.66 206.28,88.47 207.53,88.31 208.77,88.16 210.02,88.04" fill="none" stroke="#ff1a1a" stroke-width="1.6" stroke-linejoin="round"/>
<path d="M57.30,164.55L63.70,164.55L60.50,159.15Z" fill="#ff1a1a"/>
<path d="M85.33,164.55L91.73,164.55L88.53,159.15Z" fill="#ff1a1a"/>
<path d="M113.37,164.55L119.77,164.55L116.57,159.15Z" fill="#ff1a1a"/>
<path d="M132.06,164.55L138.46,164.55L135.26,159.15Z" fill="#ff1a1a"/>
<path d="M150.75,156.59L157.15,156.59L153.95,151.19Z" fill="#ff1a1a"/>
<path d="M169.44,125.77L175.84,125.77L172.64,120.37Z" fill="#ff1a1a"/>
<path d="M188.13,98.14L194.53,98.14L191.33,92.74Z" fill="#ff1a1a"/>
<path d="M206.82,90.09L213.22,90.09L210.02,84.69Z" fill="#ff1a1a"/>
<line x1="153.95" y1="149.01" x2="153.95" y2="139.46" stroke="#ff7a14" stroke-width="1"/>
<line x1="172.64" y1="121.14" x2="172.64" y2="92.47" stroke="#ff7a14" stroke-width="1"/>
<line x1="191.33" y1="103.22" x2="191.33" y2="71.37" stroke="#ff7a14" stroke-width="1"/>
<line x1="210.02" y1="104.42" x2="210.02" y2="66.19" stroke="#ff7a14" stroke-width="1"/>
<polyline points="60.50,162.55 61.75,162.55 62.99,162.55 64.24,162.55 65.48,162.55 66.73,162.55 67.98,162.55 69.22,162.55 70.47,162.55 71.71,162.55 72.96,162.55 74.21,162.55 75.45,162.55 76.70,162.55 77.94,162.55 79.19,162.55 80.44,162.55 81.68,162.55 82.93,162.55 84.17,162.55 85.42,162.55 86.67,162.54 87.91,162.54 89.16,162.54 90.40,162.54 91.65,162.54 92.90,162.54 94.14,162.54 95.39,162.53 96.63,162.53 97.88,162.53 99.13,162.52 100.37,162.52 101.62,162.52 102.86,162.51 104.11,162.50 105.36,162.50 106.60,162.49 107.85,162.48 109.09,162.46 110.34,162.45 111.59,162.43 112.83,162.41 114.08,162.39 115.32,162.37 116.57,162.34 117.82,162.30 119.06,162.26 120.31,162.21 121.55,162.15 122.80,162.09 124.05,162.01 125.29,161.92 126.54,161.82 127.78,161.70 129.03,161.56 130.28,161.40 131.52,161.21 132.77,161.00 134.01,160.75 135.26,160.45 136.51,160.12 137.75,159.73 139.00,159.28 140.24,158.77 141.49,158.17 142.74,157.50 143.98,156.72 145.23,155.84 146.47,154.84 147.72,153.71 148.97,152.43 150.21,151.01 151.46,149.42 152.70,147.67 153.95,145.74 155.20,143.64 156.44,141.37 157.69,138.95 158.93,136.37 160.18,133.67 161.43,130.86 162.67,127.98 163.92,125.06 165.16,122.13 166.41,119.22 167.66,116.38 168.90,113.62 170.15,110.98 171.39,108.47 172.64,106.12 173.89,103.94 175.13,101.93 176.38,100.09 177.62,98.42 178.87,96.91 180.12,95.56 181.36,94.36 182.61,93.30 183.85,92.36 185.10,91.53 186.35,90.81 187.59,90.17 188.84,89.62 190.08,89.14 191.33,88.72 192.58,88.36 193.82,88.05 195.07,87.78 196.31,87.54 197.56,87.34 198.81,87.17 200.05,87.02 201.30,86.89 202.54,86.78 203.79,86.68 205.04,86.60 206.28,86.53 207.53,86.47 208.77,86.42 210.02,86.37" fill="none" stroke="#ff7a14" stroke-width="1.6" stroke-linejoin="round"/>
<path d="M57.30,158.16L63.70,158.16L60.50,163.56Z" fill="#ff7a14"/>
<path d="M85.33,160.55L91.73,160.55L88.53,165.95Z" fill="#ff7a14"/>
<path d="M113.37,160.55L119.77,160.55L116.57,165.95Z" fill="#ff7a14"/>
<path d="M132.06,158.16L138.46,158.16L135.26,163.56Z" fill="#ff7a14"/>
<path d="M150.75,142.23L157.15,142.23L153.95,147.63Z" fill="#ff7a14"/>
<path d="M169.44,104.81L175.84,104.81L172.64,110.21Z" fill="#ff7a14"/>
<path d="M188.13,85.30L194.53,85.30L191.33,90.70Z" fill="#ff7a14"/>
<path d="M206.82,83.31L213.22,83.31L210.02,88.71Z" fill="#ff7a14"/>
<line x1="153.95" y1="153.87" x2="153.95" y2="150.68" stroke="#111111" stroke-width="1"/>
<line x1="172.64" y1="121.30" x2="172.64" y2="116.52" stroke="#111111" stroke-width="1"/>
<line x1="191.33" y1="94.54" x2="191.33" y2="89.77" stroke="#111111" stroke-width="1"/>
<line x1="210.02" y1="85.31" x2="210.02" y2="80.53" stroke="#111111" stroke-width="1"/>
<polyline points="60.50,162.15 61.75,162.15 62.99,162.15 64.24,162.15 65.48,162.15 66.73,162.15 67.98,162.15 69.22,162.15 70.47,162.15 71.71,162.15 72.96,162.15 74.21,162.15 75.45,162.15 76.70,162.15 77.94,162.15 79.19,162.15 80.44,162.15 81.68,162.15 82.93,162.15 84.17,162.15 85.42,162.15 86.67,162.15 87.91,162.15 89.16,162.15 90.40,162.15 91.65,162.15 92.90,162.15 94.14,162.15 95.39,162.14 96.63,162.14 97.88,162.14 99.13,162.14 100.37,162.14 101.62,162.14 102.86,162.13 104.11,162.13 105.36,162.13 106.60,162.12 107.85,162.12 109.09,162.11 110.34,162.11 111.59,162.10 112.83,162.09 114.08,162.08 115.32,162.07 116.57,162.05 117.82,162.04 119.06,162.02 120.31,161.99 121.55,161.97 122.80,161.94 124.05,161.90 125.29,161.86 126.54,161.81 127.78,161.76 129.03,161.69 130.28,161.62 131.52,161.53 132.77,161.43 134.01,161.31 135.26,161.17 136.51,161.01 137.75,160.82 139.00,160.61 140.24,160.36 141.49,160.07 142.74,159.73 143.98,159.35 145.23,158.90 146.47,158.39 147.72,157.79 148.97,157.12 150.21,156.34 151.46,155.46 152.70,154.46 153.95,153.33 155.20,152.05 156.44,150.62 157.69,149.03 158.93,147.26 160.18,145.31 161.43,143.19 162.67,140.89 163.92,138.43 165.16,135.80 166.41,133.05 167.66,130.17 168.90,127.22 170.15,124.21 171.39,121.18 172.64,118.17 173.89,115.21 175.13,112.34 176.38,109.58 177.62,106.96 178.87,104.49 180.12,102.20 181.36,100.07 182.61,98.13 183.85,96.36 185.10,94.77 186.35,93.34 187.59,92.06 188.84,90.93 190.08,89.92 191.33,89.04 192.58,88.27 193.82,87.59 195.07,87.00 196.31,86.49 197.56,86.04 198.81,85.65 200.05,85.32 201.30,85.03 202.54,84.78 203.79,84.56 205.04,84.38 206.28,84.22 207.53,84.08 208.77,83.96 210.02,83.86" fill="none" stroke="#111111" stroke-width="1.6" stroke-linejoin="round"/>
<circle cx="60.50" cy="161.75" r="3.00" fill="#111111"/>
<circle cx="88.53" cy="162.55" r="3.00" fill="#111111"/>
<circle cx="116.57" cy="162.55" r="3.00" fill="#111111"/>
<circle cx="135.26" cy="162.55" r="3.00" fill="#111111"/>
<circle cx="153.95" cy="152.28" r="3.00" fill="#111111"/>
<circle cx="172.64" cy="118.91" r="3.00" fill="#111111"/>
<circle cx="191.33" cy="92.15" r="3.00" fill="#111111"/>
<circle cx="210.02" cy="82.92" r="3.00" fill="#111111"/>
<line x1="403.94" y1="159.84" x2="403.94" y2="156.66" stroke="#1fb51f" stroke-width="1"/>
<line x1="422.63" y1="154.35" x2="422.63" y2="151.16" stroke="#1fb51f" stroke-width="1"/>
<line x1="441.32" y1="153.79" x2="441.32" y2="150.61" stroke="#1fb51f" stroke-width="1"/>
<polyline points="291.80,160.96 293.05,160.96 294.29,160.96 295.54,160.96 296.78,160.96 298.03,160.96 299.28,160.96 300.52,160.96 301.77,160.96 303.01,160.96 304.26,160.96 305.51,160.96 306.75,160.96 308.00,160.96 309.24,160.96 310.49,160.96 311.74,160.96 312.98,160.96 314.23,160.96 315.47,160.96 316.72,160.96 317.97,160.96 319.21,160.96 320.46,160.96 321.70,160.96 322.95,160.96 324.20,160.96 325.44,160.96 326.69,160.96 327.93,160.96 329.18,160.96 330.43,160.96 331.67,160.96 332.92,160.96 334.16,160.96 335.41,160.96 336.66,160.96 337.90,160.96 339.15,160.95 340.39,160.95 341.64,160.95 342.89,160.95 344.13,160.95 345.38,160.95 346.62,160.95 347.87,160.95 349.12,160.95 350.36,160.95 351.61,160.94 352.85,160.94 354.10,160.94 355.35,160.94 356.59,160.93 357.84,160.93 359.08,160.93 360.33,160.92 361.58,160.91 362.82,160.91 364.07,160.90 365.31,160.89 366.56,160.88 367.81,160.87 369.05,160.85 370.30,160.83 371.54,160.81 372.79,160.79 374.04,160.76 375.28,160.73 376.53,160.69 377.77,160.65 379.02,160.60 380.27,160.55 381.51,160.48 382.76,160.41 384.00,160.32 385.25,160.22 386.50,160.11 387.74,159.99 388.99,159.84 390.23,159.68 391.48,159.50 392.73,159.30 393.97,159.08 395.22,158.83 396.46,158.57 397.71,158.28 398.96,157.96 400.20,157.63 401.45,157.29 402.69,156.92 403.94,156.55 405.19,156.17 406.43,155.79 407.68,155.41 408.92,155.04 410.17,154.67 411.42,154.33 412.66,154.00 413.91,153.68 415.15,153.39 416.40,153.13 417.65,152.88 418.89,152.66 420.14,152.46 421.38,152.28 422.63,152.12 423.88,151.97 425.12,151.85 426.37,151.74 427.61,151.64 428.86,151.55 430.11,151.48 431.35,151.41 432.60,151.36 433.84,151.31 435.09,151.27 436.34,151.23 437.58,151.20 438.83,151.17 440.07,151.15 441.32,151.13" fill="none" stroke="#1fb51f" stroke-width="1.6" stroke-linejoin="round"/>
<polygon points="291.80,158.45 292.62,160.62 294.94,160.73 293.13,162.19 293.74,164.42 291.80,163.15 289.86,164.42 290.47,162.19 288.66,160.73 290.98,160.62" fill="#1fb51f"/>
<polygon points="329.18,159.25 330.00,161.42 332.32,161.53 330.51,162.98 331.12,165.22 329.18,163.95 327.24,165.22 327.85,162.98 326.04,161.53 328.36,161.42" fill="#1fb51f"/>
<polygon points="347.87,159.25 348.69,161.42 351.01,161.53 349.20,162.98 349.81,165.22 347.87,163.95 345.93,165.22 346.54,162.98 344.73,161.53 347.05,161.42" fill="#1fb51f"/>
<polygon points="366.56,157.66 367.38,159.82 369.70,159.94 367.89,161.39 368.50,163.63 366.56,162.36 364.62,163.63 365.23,161.39 363.42,159.94 365.74,159.82" fill="#1fb51f"/>
<polygon points="385.25,156.86 386.07,159.03 388.39,159.14 386.58,160.59 387.19,162.83 385.25,161.56 383.31,162.83 383.92,160.59 382.11,159.14 384.43,159.03" fill="#1fb51f"/>
<polygon points="403.94,154.95 404.76,157.12 407.08,157.23 405.27,158.68 405.88,160.92 403.94,159.65 402.00,160.92 402.61,158.68 400.80,157.23 403.12,157.12" fill="#1fb51f"/>
<polygon points="422.63,149.46 423.45,151.62 425.77,151.74 423.96,153.19 424.57,155.42 422.63,154.16 420.69,155.42 421.30,153.19 419.49,151.74 421.81,151.62" fill="#1fb51f"/>
<polygon points="441.32,148.90 442.14,151.07 444.46,151.18 442.65,152.63 443.26,154.87 441.32,153.60 439.38,154.87 439.99,152.63 438.18,151.18 440.50,151.07" fill="#1fb51f"/>
<line x1="403.94" y1="156.02" x2="403.94" y2="151.24" stroke="#0a14ff" stroke-width="1"/>
<line x1="422.63" y1="148.85" x2="422.63" y2="144.08" stroke="#0a14ff" stroke-width="1"/>
<line x1="441.32" y1="151.00" x2="441.32" y2="146.23" stroke="#0a14ff" stroke-width="1"/>
<polyline points="291.80,162.55 293.05,162.55 294.29,162.55 295.54,162.55 296.78,162.55 298.03,162.55 299.28,162.55 300.52,162.55 301.77,162.55 303.01,162.55 304.26,162.55 305.51,162.55 306.75,162.55 308.00,162.54 309.24,162.54 310.49,162.54 311.74,162.54 312.98,162.54 314.23,162.54 315.47,162.54 316.72,162.54 317.97,162.54 319.21,162.53 320.46,162.53 321.70,162.53 322.95,162.53 324.20,162.52 325.44,162.52 326.69,162.52 327.93,162.51 329.18,162.51 330.43,162.50 331.67,162.49 332.92,162.49 334.16,162.48 335.41,162.47 336.66,162.46 337.90,162.45 339.15,162.44 340.39,162.42 341.64,162.40 342.89,162.38 344.13,162.36 345.38,162.34 346.62,162.31 347.87,162.28 349.12,162.25 350.36,162.21 351.61,162.17 352.85,162.12 354.10,162.06 355.35,162.00 356.59,161.93 357.84,161.86 359.08,161.77 360.33,161.67 361.58,161.57 362.82,161.45 364.07,161.32 365.31,161.17 366.56,161.01 367.81,160.83 369.05,160.64 370.30,160.43 371.54,160.20 372.79,159.94 374.04,159.67 375.28,159.38 376.53,159.07 377.77,158.73 379.02,158.38 380.27,158.01 381.51,157.62 382.76,157.21 384.00,156.79 385.25,156.37 386.50,155.93 387.74,155.49 388.99,155.05 390.23,154.62 391.48,154.18 392.73,153.76 393.97,153.35 395.22,152.95 396.46,152.57 397.71,152.21 398.96,151.86 400.20,151.54 401.45,151.24 402.69,150.96 403.94,150.69 405.19,150.45 406.43,150.23 407.68,150.03 408.92,149.84 410.17,149.67 411.42,149.52 412.66,149.38 413.91,149.26 415.15,149.14 416.40,149.04 417.65,148.95 418.89,148.87 420.14,148.80 421.38,148.73 422.63,148.68 423.88,148.62 425.12,148.58 426.37,148.54 427.61,148.50 428.86,148.47 430.11,148.44 431.35,148.41 432.60,148.39 433.84,148.37 435.09,148.35 436.34,148.34 437.58,148.32 438.83,148.31 440.07,148.30 441.32,148.29" fill="none" stroke="#0a14ff" stroke-width="1.6" stroke-linejoin="round"/>
<circle cx="291.80" cy="162.55" r="3.00" fill="#0a14ff"/>
<circle cx="329.18" cy="164.14" r="3.00" fill="#0a14ff"/>
<circle cx="347.87" cy="158.25" r="3.00" fill="#0a14ff"/>
<circle cx="366.56" cy="160.16" r="3.00" fill="#0a14ff"/>
<circle cx="385.25" cy="157.77" r="3.00" fill="#0a14ff"/>
<circle cx="403.94" cy="153.63" r="3.00" fill="#0a14ff"/>
<circle cx="422.63" cy="146.46" r="3.00" fill="#0a14ff"/>
<circle cx="441.32" cy="148.61" r="3.00" fill="#0a14ff"/>
<line x1="366.56" y1="161.12" x2="366.56" y2="151.56" stroke="#2196f3" stroke-width="1"/>
<line x1="403.94" y1="125.12" x2="403.94" y2="109.20" stroke="#2196f3" stroke-width="1"/>
<line x1="422.63" y1="101.23" x2="422.63" y2="88.49" stroke="#2196f3" stroke-width="1"/>
<line x1="441.32" y1="98.84" x2="441.32" y2="86.10" stroke="#2196f3" stroke-width="1"/>
<polyline points="291.80,162.55 293.05,162.55 294.29,162.55 295.54,162.55 296.78,162.55 298.03,162.55 299.28,162.55 300.52,162.55 301.77,162.55 303.01,162.55 304.26,162.55 305.51,162.55 306.75,162.55 308.00,162.55 309.24,162.55 310.49,162.55 311.74,162.55 312.98,162.55 314.23,162.55 315.47,162.55 316.72,162.55 317.97,162.55 319.21,162.55 320.46,162.55 321.70,162.55 322.95,162.55 324.20,162.55 325.44,162.55 326.69,162.55 327.93,162.54 329.18,162.54 330.43,162.54 331.67,162.54 332.92,162.54 334.16,162.54 335.41,162.53 336.66,162.53 337.90,162.53 339.15,162.52 340.39,162.52 341.64,162.51 342.89,162.51 344.13,162.50 345.38,162.49 346.62,162.48 347.87,162.46 349.12,162.45 350.36,162.43 351.61,162.41 352.85,162.38 354.10,162.35 355.35,162.32 356.59,162.27 357.84,162.22 359.08,162.16 360.33,162.09 361.58,162.01 362.82,161.91 364.07,161.79 365.31,161.66 366.56,161.49 367.81,161.30 369.05,161.08 370.30,160.81 371.54,160.50 372.79,160.14 374.04,159.71 375.28,159.22 376.53,158.64 377.77,157.97 379.02,157.19 380.27,156.29 381.51,155.26 382.76,154.08 384.00,152.74 385.25,151.23 386.50,149.53 387.74,147.64 388.99,145.57 390.23,143.30 391.48,140.86 392.73,138.25 393.97,135.50 395.22,132.65 396.46,129.73 397.71,126.77 398.96,123.83 400.20,120.93 401.45,118.13 402.69,115.45 403.94,112.92 405.19,110.57 406.43,108.39 407.68,106.41 408.92,104.62 410.17,103.02 411.42,101.59 412.66,100.34 413.91,99.23 415.15,98.27 416.40,97.43 417.65,96.71 418.89,96.08 420.14,95.55 421.38,95.09 422.63,94.69 423.88,94.36 425.12,94.07 426.37,93.83 427.61,93.62 428.86,93.45 430.11,93.30 431.35,93.17 432.60,93.06 433.84,92.97 435.09,92.89 436.34,92.83 437.58,92.77 438.83,92.73 440.07,92.69 441.32,92.65" fill="none" stroke="#2196f3" stroke-width="1.6" stroke-linejoin="round"/>
<path d="M288.80,162.55L291.80,159.55L294.80,162.55L291.80,165.55Z" fill="#2196f3"/>
<path d="M326.18,162.55L329.18,159.55L332.18,162.55L329.18,165.55Z" fill="#2196f3"/>
<path d="M344.87,160.16L347.87,157.16L350.87,160.16L347.87,163.16Z" fill="#2196f3"/>
<path d="M363.56,151.56L366.56,148.56L369.56,151.56L366.56,154.56Z" fill="#2196f3"/>
<path d="M382.25,145.03L385.25,142.03L388.25,145.03L385.25,148.03Z" fill="#2196f3"/>
<path d="M400.94,117.16L403.94,114.16L406.94,117.16L403.94,120.16Z" fill="#2196f3"/>
<path d="M419.63,94.86L422.63,91.86L425.63,94.86L422.63,97.86Z" fill="#2196f3"/>
<path d="M438.32,92.47L441.32,89.47L444.32,92.47L441.32,95.47Z" fill="#2196f3"/>
<line x1="329.18" y1="170.51" x2="329.18" y2="154.59" stroke="#7f7f7f" stroke-width="1"/>
<line x1="385.25" y1="149.01" x2="385.25" y2="142.64" stroke="#7f7f7f" stroke-width="1"/>
<line x1="403.94" y1="125.12" x2="403.94" y2="109.20" stroke="#7f7f7f" stroke-width="1"/>
<line x1="422.63" y1="90.88" x2="422.63" y2="81.32" stroke="#7f7f7f" stroke-width="1"/>
<line x1="441.32" y1="90.08" x2="441.32" y2="80.53" stroke="#7f7f7f" stroke-width="1"/>
<polyline points="291.80,162.55 293.05,162.55 294.29,162.55 295.54,162.55 296.78,162.55 298.03,162.55 299.28,162.55 300.52,162.55 301.77,162.55 303.01,162.55 304.26,162.55 305.51,162.55 306.75,162.55 308.00,162.55 309.24,162.55 310.49,162.55 311.74,162.55 312.98,162.55 314.23,162.55 315.47,162.54 316.72,162.54 317.97,162.54 319.21,162.54 320.46,162.54 321.70,162.54 322.95,162.54 324.20,162.54 325.44,162.53 326.69,162.53 327.93,162.53 329.18,162.52 330.43,162.52 331.67,162.51 332.92,162.51 334.16,162.50 335.41,162.49 336.66,162.48 337.90,162.47 339.15,162.46 340.39,162.44 341.64,162.42 342.89,162.40 344.13,162.38 345.38,162.35 346.62,162.32 347.87,162.28 349.12,162.23 350.36,162.18 351.61,162.12 352.85,162.05 354.10,161.96 355.35,161.87 356.59,161.76 357.84,161.63 359.08,161.47 360.33,161.30 361.58,161.09 362.82,160.86 364.07,160.59 365.31,160.27 366.56,159.90 367.81,159.48 369.05,159.00 370.30,158.44 371.54,157.80 372.79,157.06 374.04,156.23 375.28,155.28 376.53,154.20 377.77,152.99 379.02,151.63 380.27,150.11 381.51,148.42 382.76,146.56 384.00,144.53 385.25,142.32 386.50,139.95 387.74,137.42 388.99,134.75 390.23,131.96 391.48,129.08 392.73,126.15 393.97,123.19 395.22,120.23 396.46,117.32 397.71,114.49 398.96,111.76 400.20,109.16 401.45,106.70 402.69,104.41 403.94,102.29 405.19,100.34 406.43,98.57 407.68,96.97 408.92,95.53 410.17,94.24 411.42,93.10 412.66,92.09 413.91,91.20 415.15,90.41 416.40,89.73 417.65,89.13 418.89,88.61 420.14,88.16 421.38,87.76 422.63,87.42 423.88,87.13 425.12,86.87 426.37,86.66 427.61,86.47 428.86,86.30 430.11,86.16 431.35,86.04 432.60,85.94 433.84,85.85 435.09,85.77 436.34,85.71 437.58,85.65 438.83,85.60 440.07,85.56 441.32,85.52" fill="none" stroke="#7f7f7f" stroke-width="1.6" stroke-linejoin="round"/>
<path d="M289.40,160.15L294.20,164.95M289.40,164.95L294.20,160.15" stroke="#7f7f7f" stroke-width="1.3" fill="none"/>
<path d="M326.78,160.15L331.58,164.95M326.78,164.95L331.58,160.15" stroke="#7f7f7f" stroke-width="1.3" fill="none"/>
<path d="M345.47,160.15L350.27,164.95M345.47,164.95L350.27,160.15" stroke="#7f7f7f" stroke-width="1.3" fill="none"/>
<path d="M364.16,156.17L368.96,160.97M364.16,160.97L368.96,156.17" stroke="#7f7f7f" stroke-width="1.3" fill="none"/>
<path d="M382.85,143.43L387.65,148.23M382.85,148.23L387.65,143.43" stroke="#7f7f7f" stroke-width="1.3" fill="none"/>
<path d="M401.54,114.76L406.34,119.56M401.54,119.56L406.34,114.76" stroke="#7f7f7f" stroke-width="1.3" fill="none"/>
<path d="M420.23,83.70L425.03,88.50M420.23,88.50L425.03,83.70" stroke="#7f7f7f" stroke-width="1.3" fill="none"/>
<path d="M438.92,82.91L443.72,87.71M438.92,87.71L443.72,82.91" stroke="#7f7f7f" stroke-width="1.3" fill="none"/>
<line x1="385.25" y1="138.66" x2="385.25" y2="129.10" stroke="#ff7a14" stroke-width="1"/>
<line x1="403.94" y1="117.96" x2="403.94" y2="105.21" stroke="#ff7a14" stroke-width="1"/>
<line x1="422.63" y1="102.98" x2="422.63" y2="90.24" stroke="#ff7a14" stroke-width="1"/>
<line x1="441.32" y1="100.20" x2="441.32" y2="87.46" stroke="#ff7a14" stroke-width="1"/>
<polyline points="291.80,162.55 293.05,162.55 294.29,162.55 295.54,162.55 296.78,162.55 298.03,162.55 299.28,162.55 300.52,162.55 301.77,162.55 303.01,162.55 304.26,162.55 305.51,162.55 306.75,162.55 308.00,162.55 309.24,162.55 310.49,162.55 311.74,162.55 312.98,162.55 314.23,162.55 315.47,162.55 316.72,162.55 317.97,162.55 319.21,162.55 320.46,162.55 321.70,162.55 322.95,162.55 324.20,162.55 325.44,162.55 326.69,162.54 327.93,162.54 329.18,162.54 330.43,162.54 331.67,162.54 332.92,162.54 334.16,162.53 335.41,162.53 336.66,162.53 337.90,162.52 339.15,162.51 340.39,162.51 341.64,162.50 342.89,162.49 344.13,162.48 345.38,162.46 346.62,162.44 347.87,162.42 349.12,162.39 350.36,162.36 351.61,162.32 352.85,162.28 354.10,162.22 355.35,162.16 356.59,162.08 357.84,161.99 359.08,161.87 360.33,161.74 361.58,161.58 362.82,161.38 364.07,161.15 365.31,160.88 366.56,160.55 367.81,160.16 369.05,159.70 370.30,159.15 371.54,158.50 372.79,157.74 374.04,156.86 375.28,155.82 376.53,154.63 377.77,153.26 379.02,151.69 380.27,149.92 381.51,147.93 382.76,145.74 384.00,143.34 385.25,140.75 386.50,138.00 387.74,135.12 388.99,132.15 390.23,129.15 391.48,126.16 392.73,123.23 393.97,120.41 395.22,117.74 396.46,115.24 397.71,112.94 398.96,110.85 400.20,108.97 401.45,107.30 402.69,105.83 403.94,104.55 405.19,103.44 406.43,102.48 407.68,101.66 408.92,100.96 410.17,100.37 411.42,99.86 412.66,99.44 413.91,99.08 415.15,98.78 416.40,98.53 417.65,98.32 418.89,98.14 420.14,97.99 421.38,97.87 422.63,97.77 423.88,97.68 425.12,97.61 426.37,97.55 427.61,97.50 428.86,97.46 430.11,97.42 431.35,97.39 432.60,97.37 433.84,97.35 435.09,97.33 436.34,97.32 437.58,97.31 438.83,97.30 440.07,97.29 441.32,97.28" fill="none" stroke="#ff7a14" stroke-width="1.6" stroke-linejoin="round"/>
<path d="M288.60,157.36L295.00,157.36L291.80,162.76Z" fill="#ff7a14"/>
<path d="M325.98,160.55L332.38,160.55L329.18,165.95Z" fill="#ff7a14"/>
<path d="M344.67,160.55L351.07,160.55L347.87,165.95Z" fill="#ff7a14"/>
<path d="M363.36,156.57L369.76,156.57L366.56,161.97Z" fill="#ff7a14"/>
<path d="M382.05,131.88L388.45,131.88L385.25,137.28Z" fill="#ff7a14"/>
<path d="M400.74,109.58L407.14,109.58L403.94,114.98Z" fill="#ff7a14"/>
<path d="M419.43,94.61L425.83,94.61L422.63,100.01Z" fill="#ff7a14"/>
<path d="M438.12,91.83L444.52,91.83L441.32,97.23Z" fill="#ff7a14"/>
<line x1="385.25" y1="155.14" x2="385.25" y2="150.37" stroke="#fa3ce6" stroke-width="1"/>
<line x1="403.94" y1="141.53" x2="403.94" y2="138.34" stroke="#fa3ce6" stroke-width="1"/>
<line x1="422.63" y1="142.80" x2="422.63" y2="138.02" stroke="#fa3ce6" stroke-width="1"/>
<line x1="441.32" y1="137.86" x2="441.32" y2="134.68" stroke="#fa3ce6" stroke-width="1"/>
<polyline points="291.80,163.74 293.05,163.74 294.29,163.74 295.54,163.74 296.78,163.74 298.03,163.74 299.28,163.74 300.52,163.74 301.77,163.74 303.01,163.74 304.26,163.74 305.51,163.74 306.75,163.74 308.00,163.74 309.24,163.74 310.49,163.74 311.74,163.74 312.98,163.74 314.23,163.74 315.47,163.74 316.72,163.74 317.97,163.74 319.21,163.74 320.46,163.74 321.70,163.74 322.95,163.74 324.20,163.74 325.44,163.74 326.69,163.74 327.93,163.74 329.18,163.74 330.43,163.74 331.67,163.73 332.92,163.73 334.16,163.73 335.41,163.73 336.66,163.73 337.90,163.72 339.15,163.72 340.39,163.71 341.64,163.71 342.89,163.70 344.13,163.69 345.38,163.68 346.62,163.67 347.87,163.66 349.12,163.64 350.36,163.62 351.61,163.60 352.85,163.57 354.10,163.54 355.35,163.50 356.59,163.46 357.84,163.41 359.08,163.35 360.33,163.28 361.58,163.19 362.82,163.09 364.07,162.98 365.31,162.84 366.56,162.68 367.81,162.49 369.05,162.28 370.30,162.03 371.54,161.73 372.79,161.40 374.04,161.01 375.28,160.57 376.53,160.07 377.77,159.50 379.02,158.86 380.27,158.15 381.51,157.38 382.76,156.53 384.00,155.61 385.25,154.63 386.50,153.60 387.74,152.53 388.99,151.44 390.23,150.33 391.48,149.22 392.73,148.14 393.97,147.09 395.22,146.08 396.46,145.13 397.71,144.25 398.96,143.44 400.20,142.69 401.45,142.02 402.69,141.42 403.94,140.89 405.19,140.41 406.43,140.00 407.68,139.64 408.92,139.33 410.17,139.05 411.42,138.82 412.66,138.62 413.91,138.45 415.15,138.30 416.40,138.17 417.65,138.07 418.89,137.97 420.14,137.90 421.38,137.83 422.63,137.77 423.88,137.73 425.12,137.69 426.37,137.65 427.61,137.62 428.86,137.60 430.11,137.58 431.35,137.56 432.60,137.55 433.84,137.53 435.09,137.52 436.34,137.51 437.58,137.51 438.83,137.50 440.07,137.49 441.32,137.49" fill="none" stroke="#fa3ce6" stroke-width="1.6" stroke-linejoin="round"/>
<rect x="288.95" y="158.11" width="5.70" height="5.70" fill="#fa3ce6"/>
<rect x="326.33" y="160.50" width="5.70" height="5.70" fill="#fa3ce6"/>
<rect x="345.02" y="162.09" width="5.70" height="5.70" fill="#fa3ce6"/>
<rect x="363.71" y="159.70" width="5.70" height="5.70" fill="#fa3ce6"/>
<rect x="382.40" y="149.91" width="5.70" height="5.70" fill="#fa3ce6"/>
<rect x="401.09" y="137.08" width="5.70" height="5.70" fill="#fa3ce6"/>
<rect x="419.78" y="137.56" width="5.70" height="5.70" fill="#fa3ce6"/>
<rect x="438.47" y="133.42" width="5.70" height="5.70" fill="#fa3ce6"/>
<line x1="403.94" y1="121.14" x2="403.94" y2="89.29" stroke="#ff1a1a" stroke-width="1"/>
<line x1="422.63" y1="105.21" x2="422.63" y2="60.62" stroke="#ff1a1a" stroke-width="1"/>
<line x1="441.32" y1="104.42" x2="441.32" y2="53.45" stroke="#ff1a1a" stroke-width="1"/>
<polyline points="291.80,162.55 293.05,162.55 294.29,162.55 295.54,162.55 296.78,162.55 298.03,162.55 299.28,162.55 300.52,162.55 301.77,162.55 303.01,162.55 304.26,162.55 305.51,162.55 306.75,162.55 308.00,162.55 309.24,162.55 310.49,162.55 311.74,162.55 312.98,162.55 314.23,162.54 315.47,162.54 316.72,162.54 317.97,162.54 319.21,162.54 320.46,162.54 321.70,162.54 322.95,162.53 324.20,162.53 325.44,162.53 326.69,162.53 327.93,162.52 329.18,162.52 330.43,162.51 331.67,162.51 332.92,162.50 334.16,162.49 335.41,162.48 336.66,162.47 337.90,162.45 339.15,162.44 340.39,162.42 341.64,162.40 342.89,162.37 344.13,162.34 345.38,162.31 346.62,162.27 347.87,162.22 349.12,162.17 350.36,162.10 351.61,162.03 352.85,161.95 354.10,161.85 355.35,161.73 356.59,161.60 357.84,161.44 359.08,161.26 360.33,161.05 361.58,160.80 362.82,160.52 364.07,160.19 365.31,159.82 366.56,159.38 367.81,158.88 369.05,158.30 370.30,157.63 371.54,156.87 372.79,156.01 374.04,155.02 375.28,153.90 376.53,152.64 377.77,151.22 379.02,149.63 380.27,147.87 381.51,145.92 382.76,143.79 384.00,141.47 385.25,138.97 386.50,136.30 387.74,133.47 388.99,130.51 390.23,127.45 391.48,124.31 392.73,121.14 393.97,117.97 395.22,114.83 396.46,111.77 397.71,108.81 398.96,105.99 400.20,103.31 401.45,100.81 402.69,98.49 403.94,96.36 405.19,94.41 406.43,92.65 407.68,91.06 408.92,89.64 410.17,88.38 411.42,87.26 412.66,86.27 413.91,85.41 415.15,84.65 416.40,83.98 417.65,83.40 418.89,82.90 420.14,82.47 421.38,82.09 422.63,81.76 423.88,81.48 425.12,81.23 426.37,81.02 427.61,80.84 428.86,80.69 430.11,80.55 431.35,80.44 432.60,80.34 433.84,80.25 435.09,80.18 436.34,80.11 437.58,80.06 438.83,80.01 440.07,79.97 441.32,79.94" fill="none" stroke="#ff1a1a" stroke-width="1.6" stroke-linejoin="round"/>
<path d="M288.60,164.55L295.00,164.55L291.80,159.15Z" fill="#ff1a1a"/>
<path d="M325.98,164.55L332.38,164.55L329.18,159.15Z" fill="#ff1a1a"/>
<path d="M344.67,164.55L351.07,164.55L347.87,159.15Z" fill="#ff1a1a"/>
<path d="M363.36,159.77L369.76,159.77L366.56,154.37Z" fill="#ff1a1a"/>
<path d="M382.05,140.66L388.45,140.66L385.25,135.26Z" fill="#ff1a1a"/>
<path d="M400.74,107.21L407.14,107.21L403.94,101.81Z" fill="#ff1a1a"/>
<path d="M419.43,84.92L425.83,84.92L422.63,79.52Z" fill="#ff1a1a"/>
<path d="M438.12,80.94L444.52,80.94L441.32,75.54Z" fill="#ff1a1a"/>
<line x1="385.25" y1="142.32" x2="385.25" y2="137.55" stroke="#111111" stroke-width="1"/>
<line x1="403.94" y1="108.64" x2="403.94" y2="103.86" stroke="#111111" stroke-width="1"/>
<line x1="422.63" y1="86.10" x2="422.63" y2="81.32" stroke="#111111" stroke-width="1"/>
<line x1="441.32" y1="85.31" x2="441.32" y2="80.53" stroke="#111111" stroke-width="1"/>
<polyline points="291.80,161.75 293.05,161.75 294.29,161.75 295.54,161.75 296.78,161.75 298.03,161.75 299.28,161.75 300.52,161.75 301.77,161.75 303.01,161.75 304.26,161.75 305.51,161.75 306.75,161.75 308.00,161.75 309.24,161.75 310.49,161.75 311.74,161.75 312.98,161.75 314.23,161.75 315.47,161.75 316.72,161.75 317.97,161.75 319.21,161.75 320.46,161.74 321.70,161.74 322.95,161.74 324.20,161.74 325.44,161.74 326.69,161.73 327.93,161.73 329.18,161.73 330.43,161.72 331.67,161.72 332.92,161.71 334.16,161.70 335.41,161.69 336.66,161.68 337.90,161.67 339.15,161.66 340.39,161.64 341.64,161.62 342.89,161.60 344.13,161.58 345.38,161.55 346.62,161.51 347.87,161.47 349.12,161.43 350.36,161.37 351.61,161.31 352.85,161.23 354.10,161.15 355.35,161.05 356.59,160.93 357.84,160.80 359.08,160.64 360.33,160.46 361.58,160.25 362.82,160.01 364.07,159.73 365.31,159.40 366.56,159.02 367.81,158.59 369.05,158.09 370.30,157.51 371.54,156.85 372.79,156.10 374.04,155.24 375.28,154.26 376.53,153.15 377.77,151.90 379.02,150.49 380.27,148.93 381.51,147.19 382.76,145.27 384.00,143.17 385.25,140.90 386.50,138.45 387.74,135.84 388.99,133.09 390.23,130.22 391.48,127.25 392.73,124.23 393.97,121.17 395.22,118.13 396.46,115.13 397.71,112.21 398.96,109.39 400.20,106.71 401.45,104.18 402.69,101.82 403.94,99.63 405.19,97.62 406.43,95.80 407.68,94.14 408.92,92.66 410.17,91.33 411.42,90.15 412.66,89.11 413.91,88.19 415.15,87.39 416.40,86.68 417.65,86.06 418.89,85.53 420.14,85.06 421.38,84.65 422.63,84.30 423.88,84.00 425.12,83.74 426.37,83.51 427.61,83.32 428.86,83.15 430.11,83.00 431.35,82.88 432.60,82.77 433.84,82.68 435.09,82.60 436.34,82.53 437.58,82.47 438.83,82.42 440.07,82.38 441.32,82.34" fill="none" stroke="#111111" stroke-width="1.6" stroke-linejoin="round"/>
<circle cx="291.80" cy="165.58" r="3.00" fill="#111111"/>
<circle cx="329.18" cy="162.55" r="3.00" fill="#111111"/>
<circle cx="347.87" cy="162.55" r="3.00" fill="#111111"/>
<circle cx="366.56" cy="156.82" r="3.00" fill="#111111"/>
<circle cx="385.25" cy="139.93" r="3.00" fill="#111111"/>
<circle cx="403.94" cy="106.25" r="3.00" fill="#111111"/>
<circle cx="422.63" cy="83.71" r="3.00" fill="#111111"/>
<circle cx="441.32" cy="82.92" r="3.00" fill="#111111"/>
<line x1="154.75" y1="391.90" x2="154.75" y2="388.27" stroke="#2196f3" stroke-width="1"/>
<line x1="173.40" y1="372.12" x2="173.40" y2="368.49" stroke="#2196f3" stroke-width="1"/>
<line x1="192.05" y1="361.05" x2="192.05" y2="357.42" stroke="#2196f3" stroke-width="1"/>
<line x1="210.70" y1="352.82" x2="210.70" y2="349.19" stroke="#2196f3" stroke-width="1"/>
<polyline points="61.50,396.50 62.74,396.50 63.99,396.50 65.23,396.50 66.47,396.50 67.72,396.50 68.96,396.50 70.20,396.50 71.45,396.50 72.69,396.50 73.93,396.50 75.18,396.50 76.42,396.50 77.66,396.50 78.91,396.50 80.15,396.50 81.39,396.50 82.64,396.50 83.88,396.50 85.12,396.50 86.37,396.50 87.61,396.50 88.85,396.50 90.10,396.50 91.34,396.50 92.58,396.50 93.83,396.50 95.07,396.50 96.31,396.50 97.56,396.50 98.80,396.50 100.04,396.49 101.29,396.49 102.53,396.49 103.77,396.49 105.02,396.49 106.26,396.49 107.50,396.49 108.75,396.49 109.99,396.48 111.23,396.48 112.48,396.48 113.72,396.47 114.96,396.47 116.21,396.46 117.45,396.46 118.69,396.45 119.94,396.44 121.18,396.43 122.42,396.42 123.67,396.41 124.91,396.39 126.15,396.37 127.40,396.35 128.64,396.33 129.88,396.30 131.13,396.26 132.37,396.22 133.61,396.18 134.86,396.13 136.10,396.07 137.34,395.99 138.59,395.91 139.83,395.82 141.07,395.70 142.32,395.57 143.56,395.43 144.80,395.25 146.05,395.05 147.29,394.82 148.53,394.55 149.78,394.25 151.02,393.90 152.26,393.49 153.51,393.04 154.75,392.51 155.99,391.92 157.24,391.25 158.48,390.50 159.72,389.66 160.97,388.73 162.21,387.69 163.45,386.56 164.70,385.34 165.94,384.01 167.18,382.59 168.43,381.10 169.67,379.53 170.91,377.91 172.16,376.25 173.40,374.57 174.64,372.89 175.89,371.23 177.13,369.61 178.37,368.04 179.62,366.54 180.86,365.13 182.10,363.80 183.35,362.57 184.59,361.44 185.83,360.41 187.08,359.48 188.32,358.64 189.56,357.89 190.81,357.22 192.05,356.62 193.29,356.10 194.54,355.64 195.78,355.24 197.02,354.89 198.27,354.58 199.51,354.32 200.75,354.09 202.00,353.89 203.24,353.71 204.48,353.56 205.73,353.43 206.97,353.32 208.21,353.23 209.46,353.14 210.70,353.07" fill="none" stroke="#2196f3" stroke-width="1.6" stroke-linejoin="round"/>
<path d="M58.50,396.50L61.50,393.50L64.50,396.50L61.50,399.50Z" fill="#2196f3"/>
<path d="M95.80,396.50L98.80,393.50L101.80,396.50L98.80,399.50Z" fill="#2196f3"/>
<path d="M114.45,396.50L117.45,393.50L120.45,396.50L117.45,399.50Z" fill="#2196f3"/>
<path d="M133.10,396.50L136.10,393.50L139.10,396.50L136.10,399.50Z" fill="#2196f3"/>
<path d="M151.75,390.09L154.75,387.09L157.75,390.09L154.75,393.09Z" fill="#2196f3"/>
<path d="M170.40,370.30L173.40,367.30L176.40,370.30L173.40,373.30Z" fill="#2196f3"/>
<path d="M189.05,359.23L192.05,356.23L195.05,359.23L192.05,362.23Z" fill="#2196f3"/>
<path d="M207.70,351.00L210.70,348.00L213.70,351.00L210.70,354.00Z" fill="#2196f3"/>
<line x1="154.75" y1="384.28" x2="154.75" y2="379.44" stroke="#ff7a14" stroke-width="1"/>
<line x1="173.40" y1="345.32" x2="173.40" y2="336.85" stroke="#ff7a14" stroke-width="1"/>
<line x1="192.05" y1="335.09" x2="192.05" y2="322.99" stroke="#ff7a14" stroke-width="1"/>
<line x1="210.70" y1="325.96" x2="210.70" y2="313.86" stroke="#ff7a14" stroke-width="1"/>
<polyline points="61.50,396.50 62.74,396.50 63.99,396.50 65.23,396.50 66.47,396.50 67.72,396.50 68.96,396.50 70.20,396.50 71.45,396.50 72.69,396.50 73.93,396.50 75.18,396.50 76.42,396.50 77.66,396.50 78.91,396.50 80.15,396.50 81.39,396.50 82.64,396.50 83.88,396.50 85.12,396.50 86.37,396.50 87.61,396.50 88.85,396.50 90.10,396.50 91.34,396.50 92.58,396.50 93.83,396.50 95.07,396.50 96.31,396.49 97.56,396.49 98.80,396.49 100.04,396.49 101.29,396.49 102.53,396.49 103.77,396.48 105.02,396.48 106.26,396.48 107.50,396.47 108.75,396.47 109.99,396.46 111.23,396.46 112.48,396.45 113.72,396.44 114.96,396.43 116.21,396.42 117.45,396.40 118.69,396.38 119.94,396.36 121.18,396.33 122.42,396.30 123.67,396.27 124.91,396.22 126.15,396.17 127.40,396.11 128.64,396.04 129.88,395.96 131.13,395.86 132.37,395.74 133.61,395.61 134.86,395.45 136.10,395.25 137.34,395.03 138.59,394.77 139.83,394.46 141.07,394.09 142.32,393.67 143.56,393.17 144.80,392.59 146.05,391.92 147.29,391.14 148.53,390.23 149.78,389.20 151.02,388.01 152.26,386.66 153.51,385.13 154.75,383.41 155.99,381.50 157.24,379.39 158.48,377.08 159.72,374.58 160.97,371.91 162.21,369.09 163.45,366.15 164.70,363.12 165.94,360.05 167.18,356.98 168.43,353.95 169.67,351.01 170.91,348.19 172.16,345.51 173.40,343.02 174.64,340.71 175.89,338.60 177.13,336.68 178.37,334.97 179.62,333.44 180.86,332.09 182.10,330.90 183.35,329.86 184.59,328.96 185.83,328.18 187.08,327.51 188.32,326.93 189.56,326.43 190.81,326.00 192.05,325.64 193.29,325.33 194.54,325.07 195.78,324.84 197.02,324.65 198.27,324.49 199.51,324.35 200.75,324.24 202.00,324.14 203.24,324.05 204.48,323.98 205.73,323.92 206.97,323.87 208.21,323.83 209.46,323.79 210.70,323.76" fill="none" stroke="#ff7a14" stroke-width="1.6" stroke-linejoin="round"/>
<path d="M58.30,394.50L64.70,394.50L61.50,399.90Z" fill="#ff7a14"/>
<path d="M95.60,392.69L102.00,392.69L98.80,398.08Z" fill="#ff7a14"/>
<path d="M114.25,394.50L120.65,394.50L117.45,399.90Z" fill="#ff7a14"/>
<path d="M132.90,394.50L139.30,394.50L136.10,399.90Z" fill="#ff7a14"/>
<path d="M151.55,379.86L157.95,379.86L154.75,385.26Z" fill="#ff7a14"/>
<path d="M170.20,339.08L176.60,339.08L173.40,344.48Z" fill="#ff7a14"/>
<path d="M188.85,327.04L195.25,327.04L192.05,332.44Z" fill="#ff7a14"/>
<path d="M207.50,317.91L213.90,317.91L210.70,323.31Z" fill="#ff7a14"/>
<line x1="154.75" y1="363.95" x2="154.75" y2="356.69" stroke="#ff1a1a" stroke-width="1"/>
<line x1="173.40" y1="347.74" x2="173.40" y2="334.43" stroke="#ff1a1a" stroke-width="1"/>
<line x1="192.05" y1="342.05" x2="192.05" y2="327.53" stroke="#ff1a1a" stroke-width="1"/>
<line x1="210.70" y1="340.84" x2="210.70" y2="322.69" stroke="#ff1a1a" stroke-width="1"/>
<polyline points="61.50,396.50 62.74,396.50 63.99,396.50 65.23,396.50 66.47,396.50 67.72,396.50 68.96,396.50 70.20,396.50 71.45,396.50 72.69,396.50 73.93,396.50 75.18,396.50 76.42,396.50 77.66,396.50 78.91,396.50 80.15,396.50 81.39,396.50 82.64,396.49 83.88,396.49 85.12,396.49 86.37,396.49 87.61,396.49 88.85,396.49 90.10,396.48 91.34,396.48 92.58,396.48 93.83,396.47 95.07,396.47 96.31,396.46 97.56,396.46 98.80,396.45 100.04,396.44 101.29,396.43 102.53,396.41 103.77,396.40 105.02,396.38 106.26,396.36 107.50,396.33 108.75,396.30 109.99,396.26 111.23,396.22 112.48,396.17 113.72,396.11 114.96,396.04 116.21,395.95 117.45,395.85 118.69,395.73 119.94,395.59 121.18,395.43 122.42,395.24 123.67,395.01 124.91,394.74 126.15,394.43 127.40,394.07 128.64,393.64 129.88,393.14 131.13,392.56 132.37,391.89 133.61,391.12 134.86,390.23 136.10,389.21 137.34,388.05 138.59,386.73 139.83,385.26 141.07,383.62 142.32,381.80 143.56,379.82 144.80,377.68 146.05,375.38 147.29,372.96 148.53,370.43 149.78,367.83 151.02,365.19 152.26,362.55 153.51,359.95 154.75,357.43 155.99,355.00 157.24,352.71 158.48,350.56 159.72,348.58 160.97,346.76 162.21,345.12 163.45,343.65 164.70,342.34 165.94,341.18 167.18,340.16 168.43,339.27 169.67,338.49 170.91,337.82 172.16,337.24 173.40,336.74 174.64,336.32 175.89,335.95 177.13,335.64 178.37,335.37 179.62,335.14 180.86,334.95 182.10,334.79 183.35,334.65 184.59,334.53 185.83,334.43 187.08,334.35 188.32,334.28 189.56,334.21 190.81,334.16 192.05,334.12 193.29,334.08 194.54,334.05 195.78,334.03 197.02,334.00 198.27,333.98 199.51,333.97 200.75,333.96 202.00,333.94 203.24,333.93 204.48,333.93 205.73,333.92 206.97,333.91 208.21,333.91 209.46,333.90 210.70,333.90" fill="none" stroke="#ff1a1a" stroke-width="1.6" stroke-linejoin="round"/>
<path d="M58.30,398.50L64.70,398.50L61.50,393.10Z" fill="#ff1a1a"/>
<path d="M95.60,398.50L102.00,398.50L98.80,393.10Z" fill="#ff1a1a"/>
<path d="M114.25,398.50L120.65,398.50L117.45,393.10Z" fill="#ff1a1a"/>
<path d="M132.90,387.97L139.30,387.97L136.10,382.57Z" fill="#ff1a1a"/>
<path d="M151.55,362.32L157.95,362.32L154.75,356.92Z" fill="#ff1a1a"/>
<path d="M170.20,343.08L176.60,343.08L173.40,337.68Z" fill="#ff1a1a"/>
<path d="M188.85,336.79L195.25,336.79L192.05,331.39Z" fill="#ff1a1a"/>
<path d="M207.50,333.76L213.90,333.76L210.70,328.37Z" fill="#ff1a1a"/>
<line x1="136.10" y1="383.43" x2="136.10" y2="377.38" stroke="#fa3ce6" stroke-width="1"/>
<line x1="154.75" y1="351.85" x2="154.75" y2="344.59" stroke="#fa3ce6" stroke-width="1"/>
<line x1="173.40" y1="327.17" x2="173.40" y2="312.65" stroke="#fa3ce6" stroke-width="1"/>
<line x1="192.05" y1="323.42" x2="192.05" y2="305.27" stroke="#fa3ce6" stroke-width="1"/>
<line x1="210.70" y1="322.09" x2="210.70" y2="302.73" stroke="#fa3ce6" stroke-width="1"/>
<polyline points="61.50,395.59 62.74,395.59 63.99,395.59 65.23,395.59 66.47,395.59 67.72,395.59 68.96,395.59 70.20,395.59 71.45,395.59 72.69,395.59 73.93,395.59 75.18,395.59 76.42,395.59 77.66,395.59 78.91,395.59 80.15,395.59 81.39,395.59 82.64,395.58 83.88,395.58 85.12,395.58 86.37,395.58 87.61,395.58 88.85,395.57 90.10,395.57 91.34,395.56 92.58,395.56 93.83,395.55 95.07,395.55 96.31,395.54 97.56,395.53 98.80,395.52 100.04,395.50 101.29,395.48 102.53,395.47 103.77,395.44 105.02,395.41 106.26,395.38 107.50,395.34 108.75,395.30 109.99,395.24 111.23,395.18 112.48,395.10 113.72,395.01 114.96,394.91 116.21,394.78 117.45,394.64 118.69,394.46 119.94,394.26 121.18,394.02 122.42,393.74 123.67,393.40 124.91,393.01 126.15,392.56 127.40,392.02 128.64,391.40 129.88,390.68 131.13,389.83 132.37,388.86 133.61,387.74 134.86,386.46 136.10,385.00 137.34,383.35 138.59,381.48 139.83,379.41 141.07,377.10 142.32,374.58 143.56,371.85 144.80,368.91 146.05,365.80 147.29,362.54 148.53,359.18 149.78,355.76 151.02,352.33 152.26,348.94 153.51,345.63 154.75,342.44 155.99,339.41 157.24,336.57 158.48,333.94 159.72,331.53 160.97,329.34 162.21,327.37 163.45,325.61 164.70,324.06 165.94,322.69 167.18,321.49 168.43,320.45 169.67,319.54 170.91,318.76 172.16,318.09 173.40,317.51 174.64,317.02 175.89,316.60 177.13,316.24 178.37,315.93 179.62,315.67 180.86,315.45 182.10,315.26 183.35,315.10 184.59,314.96 185.83,314.85 187.08,314.75 188.32,314.67 189.56,314.60 190.81,314.54 192.05,314.49 193.29,314.45 194.54,314.41 195.78,314.38 197.02,314.36 198.27,314.34 199.51,314.32 200.75,314.30 202.00,314.29 203.24,314.28 204.48,314.27 205.73,314.26 206.97,314.26 208.21,314.25 209.46,314.25 210.70,314.24" fill="none" stroke="#fa3ce6" stroke-width="1.6" stroke-linejoin="round"/>
<rect x="58.65" y="393.65" width="5.70" height="5.70" fill="#fa3ce6"/>
<rect x="95.95" y="393.65" width="5.70" height="5.70" fill="#fa3ce6"/>
<rect x="114.60" y="393.65" width="5.70" height="5.70" fill="#fa3ce6"/>
<rect x="133.25" y="377.56" width="5.70" height="5.70" fill="#fa3ce6"/>
<rect x="151.90" y="345.37" width="5.70" height="5.70" fill="#fa3ce6"/>
<rect x="170.55" y="317.06" width="5.70" height="5.70" fill="#fa3ce6"/>
<rect x="189.20" y="311.49" width="5.70" height="5.70" fill="#fa3ce6"/>
<rect x="207.85" y="309.55" width="5.70" height="5.70" fill="#fa3ce6"/>
<line x1="173.40" y1="388.45" x2="173.40" y2="386.03" stroke="#0a14ff" stroke-width="1"/>
<line x1="192.05" y1="385.73" x2="192.05" y2="383.31" stroke="#0a14ff" stroke-width="1"/>
<line x1="210.70" y1="387.18" x2="210.70" y2="384.76" stroke="#0a14ff" stroke-width="1"/>
<polyline points="61.50,396.80 62.74,396.80 63.99,396.80 65.23,396.80 66.47,396.80 67.72,396.80 68.96,396.80 70.20,396.80 71.45,396.80 72.69,396.80 73.93,396.80 75.18,396.80 76.42,396.80 77.66,396.80 78.91,396.80 80.15,396.80 81.39,396.80 82.64,396.80 83.88,396.80 85.12,396.80 86.37,396.80 87.61,396.80 88.85,396.80 90.10,396.80 91.34,396.80 92.58,396.80 93.83,396.80 95.07,396.80 96.31,396.80 97.56,396.80 98.80,396.80 100.04,396.80 101.29,396.80 102.53,396.80 103.77,396.80 105.02,396.79 106.26,396.79 107.50,396.79 108.75,396.79 109.99,396.79 111.23,396.78 112.48,396.78 113.72,396.78 114.96,396.77 116.21,396.77 117.45,396.76 118.69,396.76 119.94,396.75 121.18,396.74 122.42,396.73 123.67,396.72 124.91,396.71 126.15,396.69 127.40,396.67 128.64,396.65 129.88,396.63 131.13,396.60 132.37,396.57 133.61,396.53 134.86,396.48 136.10,396.43 137.34,396.37 138.59,396.30 139.83,396.23 141.07,396.13 142.32,396.03 143.56,395.91 144.80,395.78 146.05,395.62 147.29,395.45 148.53,395.25 149.78,395.03 151.02,394.79 152.26,394.52 153.51,394.22 154.75,393.90 155.99,393.54 157.24,393.16 158.48,392.76 159.72,392.34 160.97,391.90 162.21,391.45 163.45,390.98 164.70,390.52 165.94,390.06 167.18,389.61 168.43,389.17 169.67,388.74 170.91,388.34 172.16,387.96 173.40,387.61 174.64,387.28 175.89,386.99 177.13,386.72 178.37,386.47 179.62,386.25 180.86,386.06 182.10,385.88 183.35,385.73 184.59,385.59 185.83,385.47 187.08,385.37 188.32,385.28 189.56,385.20 190.81,385.13 192.05,385.07 193.29,385.02 194.54,384.98 195.78,384.94 197.02,384.91 198.27,384.88 199.51,384.85 200.75,384.83 202.00,384.81 203.24,384.80 204.48,384.78 205.73,384.77 206.97,384.76 208.21,384.75 209.46,384.75 210.70,384.74" fill="none" stroke="#0a14ff" stroke-width="1.6" stroke-linejoin="round"/>
<circle cx="61.50" cy="395.59" r="3.00" fill="#0a14ff"/>
<circle cx="98.80" cy="398.13" r="3.00" fill="#0a14ff"/>
<circle cx="117.45" cy="396.92" r="3.00" fill="#0a14ff"/>
<circle cx="136.10" cy="396.80" r="3.00" fill="#0a14ff"/>
<circle cx="154.75" cy="394.99" r="3.00" fill="#0a14ff"/>
<circle cx="173.40" cy="387.24" r="3.00" fill="#0a14ff"/>
<circle cx="192.05" cy="384.52" r="3.00" fill="#0a14ff"/>
<circle cx="210.70" cy="385.97" r="3.00" fill="#0a14ff"/>
<line x1="377.20" y1="382.92" x2="377.20" y2="376.40" stroke="#2196f3" stroke-width="1"/>
<line x1="395.88" y1="368.25" x2="395.88" y2="342.16" stroke="#2196f3" stroke-width="1"/>
<line x1="414.55" y1="339.43" x2="414.55" y2="327.20" stroke="#2196f3" stroke-width="1"/>
<line x1="433.23" y1="331.97" x2="433.23" y2="319.74" stroke="#2196f3" stroke-width="1"/>
<line x1="451.90" y1="332.37" x2="451.90" y2="316.07" stroke="#2196f3" stroke-width="1"/>
<polyline points="358.52,395.90 359.30,395.75 360.08,395.59 360.86,395.41 361.64,395.22 362.42,395.01 363.19,394.79 363.97,394.55 364.75,394.29 365.53,394.00 366.31,393.69 367.08,393.36 367.86,393.00 368.64,392.62 369.42,392.20 370.20,391.76 370.98,391.27 371.75,390.76 372.53,390.20 373.31,389.61 374.09,388.97 374.87,388.30 375.64,387.57 376.42,386.80 377.20,385.99 377.98,385.12 378.76,384.20 379.53,383.23 380.31,382.21 381.09,381.14 381.87,380.01 382.65,378.84 383.43,377.61 384.20,376.34 384.98,375.02 385.76,373.65 386.54,372.25 387.32,370.80 388.09,369.33 388.87,367.83 389.65,366.30 390.43,364.75 391.21,363.20 391.98,361.63 392.76,360.07 393.54,358.50 394.32,356.95 395.10,355.42 395.88,353.90 396.65,352.42 397.43,350.96 398.21,349.54 398.99,348.16 399.77,346.82 400.54,345.53 401.32,344.28 402.10,343.09 402.88,341.94 403.66,340.85 404.43,339.81 405.21,338.82 405.99,337.88 406.77,336.99 407.55,336.15 408.32,335.36 409.10,334.62 409.88,333.93 410.66,333.27 411.44,332.66 412.22,332.09 412.99,331.56 413.77,331.07 414.55,330.61 415.33,330.18 416.11,329.78 416.88,329.41 417.66,329.07 418.44,328.75 419.22,328.46 420.00,328.19 420.78,327.94 421.55,327.71 422.33,327.49 423.11,327.30 423.89,327.12 424.67,326.95 425.44,326.79 426.22,326.65 427.00,326.52 427.78,326.40 428.56,326.29 429.33,326.19 430.11,326.09 430.89,326.01 431.67,325.93 432.45,325.85 433.23,325.79 434.00,325.73 434.78,325.67 435.56,325.62 436.34,325.57 437.12,325.53 437.89,325.49 438.67,325.45 439.45,325.41 440.23,325.38 441.01,325.35 441.78,325.33 442.56,325.30 443.34,325.28 444.12,325.26 444.90,325.24 445.68,325.23 446.45,325.21 447.23,325.20 448.01,325.18 448.79,325.17 449.57,325.16 450.34,325.15 451.12,325.14 451.90,325.13" fill="none" stroke="#2196f3" stroke-width="1.6" stroke-linejoin="round"/>
<path d="M355.52,397.60L358.52,394.60L361.52,397.60L358.52,400.60Z" fill="#2196f3"/>
<path d="M374.20,379.66L377.20,376.66L380.20,379.66L377.20,382.66Z" fill="#2196f3"/>
<path d="M392.88,354.39L395.88,351.39L398.88,354.39L395.88,357.39Z" fill="#2196f3"/>
<path d="M411.55,333.31L414.55,330.31L417.55,333.31L414.55,336.31Z" fill="#2196f3"/>
<path d="M430.23,325.85L433.23,322.85L436.23,325.85L433.23,328.85Z" fill="#2196f3"/>
<path d="M448.90,324.22L451.90,321.22L454.90,324.22L451.90,327.22Z" fill="#2196f3"/>
<line x1="377.20" y1="381.70" x2="377.20" y2="376.81" stroke="#ff7a14" stroke-width="1"/>
<line x1="395.88" y1="360.09" x2="395.88" y2="339.71" stroke="#ff7a14" stroke-width="1"/>
<line x1="414.55" y1="330.34" x2="414.55" y2="314.03" stroke="#ff7a14" stroke-width="1"/>
<line x1="433.23" y1="330.34" x2="433.23" y2="309.95" stroke="#ff7a14" stroke-width="1"/>
<line x1="451.90" y1="329.52" x2="451.90" y2="309.14" stroke="#ff7a14" stroke-width="1"/>
<polyline points="358.52,396.01 359.30,395.86 360.08,395.69 360.86,395.50 361.64,395.30 362.42,395.07 363.19,394.83 363.97,394.56 364.75,394.26 365.53,393.94 366.31,393.59 367.08,393.21 367.86,392.80 368.64,392.35 369.42,391.86 370.20,391.33 370.98,390.75 371.75,390.13 372.53,389.46 373.31,388.73 374.09,387.95 374.87,387.11 375.64,386.21 376.42,385.24 377.20,384.21 377.98,383.12 378.76,381.95 379.53,380.72 380.31,379.42 381.09,378.05 381.87,376.62 382.65,375.12 383.43,373.56 384.20,371.94 384.98,370.27 385.76,368.55 386.54,366.78 387.32,364.99 388.09,363.16 388.87,361.32 389.65,359.47 390.43,357.61 391.21,355.76 391.98,353.92 392.76,352.11 393.54,350.32 394.32,348.57 395.10,346.87 395.88,345.22 396.65,343.62 397.43,342.08 398.21,340.60 398.99,339.19 399.77,337.85 400.54,336.57 401.32,335.36 402.10,334.22 402.88,333.15 403.66,332.15 404.43,331.20 405.21,330.33 405.99,329.51 406.77,328.75 407.55,328.04 408.32,327.38 409.10,326.78 409.88,326.22 410.66,325.70 411.44,325.23 412.22,324.79 412.99,324.39 413.77,324.02 414.55,323.68 415.33,323.37 416.11,323.09 416.88,322.83 417.66,322.59 418.44,322.37 419.22,322.17 420.00,321.99 420.78,321.83 421.55,321.68 422.33,321.54 423.11,321.41 423.89,321.30 424.67,321.19 425.44,321.10 426.22,321.01 427.00,320.93 427.78,320.86 428.56,320.80 429.33,320.74 430.11,320.68 430.89,320.63 431.67,320.59 432.45,320.55 433.23,320.51 434.00,320.48 434.78,320.45 435.56,320.42 436.34,320.40 437.12,320.37 437.89,320.35 438.67,320.33 439.45,320.32 440.23,320.30 441.01,320.29 441.78,320.27 442.56,320.26 443.34,320.25 444.12,320.24 444.90,320.23 445.68,320.22 446.45,320.22 447.23,320.21 448.01,320.20 448.79,320.20 449.57,320.19 450.34,320.19 451.12,320.18 451.90,320.18" fill="none" stroke="#ff7a14" stroke-width="1.6" stroke-linejoin="round"/>
<path d="M355.32,395.60L361.72,395.60L358.52,401.00Z" fill="#ff7a14"/>
<path d="M374.00,377.25L380.40,377.25L377.20,382.65Z" fill="#ff7a14"/>
<path d="M392.68,347.90L399.07,347.90L395.88,353.30Z" fill="#ff7a14"/>
<path d="M411.35,320.18L417.75,320.18L414.55,325.58Z" fill="#ff7a14"/>
<path d="M430.03,318.14L436.43,318.14L433.23,323.54Z" fill="#ff7a14"/>
<path d="M448.70,317.33L455.10,317.33L451.90,322.73Z" fill="#ff7a14"/>
<line x1="339.85" y1="390.26" x2="339.85" y2="372.53" stroke="#ff1a1a" stroke-width="1"/>
<line x1="358.52" y1="379.66" x2="358.52" y2="341.34" stroke="#ff1a1a" stroke-width="1"/>
<line x1="377.20" y1="378.85" x2="377.20" y2="320.14" stroke="#ff1a1a" stroke-width="1"/>
<line x1="395.88" y1="357.12" x2="395.88" y2="312.28" stroke="#ff1a1a" stroke-width="1"/>
<line x1="414.55" y1="351.21" x2="414.55" y2="307.18" stroke="#ff1a1a" stroke-width="1"/>
<line x1="433.23" y1="350.39" x2="433.23" y2="301.47" stroke="#ff1a1a" stroke-width="1"/>
<line x1="451.90" y1="349.17" x2="451.90" y2="301.06" stroke="#ff1a1a" stroke-width="1"/>
<polyline points="321.18,396.80 322.26,396.69 323.35,396.56 324.44,396.41 325.53,396.24 326.62,396.05 327.71,395.84 328.80,395.59 329.89,395.31 330.98,395.00 332.07,394.64 333.16,394.23 334.25,393.78 335.34,393.26 336.43,392.69 337.52,392.04 338.61,391.31 339.69,390.50 340.78,389.60 341.87,388.61 342.96,387.51 344.05,386.30 345.14,384.98 346.23,383.55 347.32,382.00 348.41,380.33 349.50,378.55 350.59,376.67 351.68,374.68 352.77,372.61 353.86,370.47 354.95,368.27 356.04,366.03 357.12,363.77 358.21,361.52 359.30,359.29 360.39,357.10 361.48,354.96 362.57,352.91 363.66,350.94 364.75,349.07 365.84,347.31 366.93,345.66 368.02,344.13 369.11,342.72 370.20,341.42 371.29,340.23 372.38,339.15 373.47,338.17 374.55,337.29 375.64,336.49 376.73,335.78 377.82,335.15 378.91,334.58 380.00,334.08 381.09,333.63 382.18,333.23 383.27,332.88 384.36,332.57 385.45,332.30 386.54,332.06 387.63,331.85 388.72,331.66 389.81,331.50 390.89,331.35 391.98,331.23 393.07,331.12 394.16,331.02 395.25,330.93 396.34,330.86 397.43,330.79 398.52,330.74 399.61,330.69 400.70,330.64 401.79,330.60 402.88,330.57 403.97,330.54 405.06,330.51 406.15,330.49 407.24,330.47 408.32,330.46 409.41,330.44 410.50,330.43 411.59,330.42 412.68,330.41 413.77,330.40 414.86,330.39 415.95,330.38 417.04,330.38 418.13,330.37 419.22,330.37 420.31,330.36 421.40,330.36 422.49,330.36 423.58,330.35 424.67,330.35 425.75,330.35 426.84,330.35 427.93,330.35 429.02,330.34 430.11,330.34 431.20,330.34 432.29,330.34 433.38,330.34 434.47,330.34 435.56,330.34 436.65,330.34 437.74,330.34 438.83,330.34 439.92,330.34 441.01,330.34 442.10,330.34 443.19,330.34 444.27,330.34 445.36,330.34 446.45,330.34 447.54,330.34 448.63,330.34 449.72,330.34 450.81,330.34 451.90,330.34" fill="none" stroke="#ff1a1a" stroke-width="1.6" stroke-linejoin="round"/>
<path d="M317.98,399.60L324.38,399.60L321.18,394.20Z" fill="#ff1a1a"/>
<path d="M336.65,384.11L343.05,384.11L339.85,378.71Z" fill="#ff1a1a"/>
<path d="M355.32,366.17L361.72,366.17L358.52,360.77Z" fill="#ff1a1a"/>
<path d="M374.00,345.79L380.40,345.79L377.20,340.39Z" fill="#ff1a1a"/>
<path d="M392.68,336.70L399.07,336.70L395.88,331.30Z" fill="#ff1a1a"/>
<path d="M411.35,331.19L417.75,331.19L414.55,325.79Z" fill="#ff1a1a"/>
<path d="M430.03,327.93L436.43,327.93L433.23,322.53Z" fill="#ff1a1a"/>
<path d="M448.70,327.12L455.10,327.12L451.90,321.72Z" fill="#ff1a1a"/>
<line x1="339.85" y1="391.49" x2="339.85" y2="387.41" stroke="#fa3ce6" stroke-width="1"/>
<line x1="358.52" y1="381.05" x2="358.52" y2="346.40" stroke="#fa3ce6" stroke-width="1"/>
<line x1="377.20" y1="359.03" x2="377.20" y2="322.34" stroke="#fa3ce6" stroke-width="1"/>
<line x1="395.88" y1="344.60" x2="395.88" y2="309.14" stroke="#fa3ce6" stroke-width="1"/>
<line x1="414.55" y1="340.28" x2="414.55" y2="302.78" stroke="#fa3ce6" stroke-width="1"/>
<line x1="433.23" y1="339.10" x2="433.23" y2="299.15" stroke="#fa3ce6" stroke-width="1"/>
<line x1="451.90" y1="336.86" x2="451.90" y2="298.54" stroke="#fa3ce6" stroke-width="1"/>
<polyline points="321.18,397.02 322.26,396.93 323.35,396.84 324.44,396.73 325.53,396.60 326.62,396.46 327.71,396.30 328.80,396.12 329.89,395.91 330.98,395.68 332.07,395.41 333.16,395.10 334.25,394.76 335.34,394.37 336.43,393.93 337.52,393.43 338.61,392.87 339.69,392.24 340.78,391.53 341.87,390.74 342.96,389.85 344.05,388.87 345.14,387.78 346.23,386.58 347.32,385.26 348.41,383.81 349.50,382.24 350.59,380.54 351.68,378.71 352.77,376.76 353.86,374.69 354.95,372.51 356.04,370.24 357.12,367.88 358.21,365.46 359.30,362.99 360.39,360.50 361.48,358.01 362.57,355.55 363.66,353.13 364.75,350.77 365.84,348.49 366.93,346.31 368.02,344.24 369.11,342.29 370.20,340.46 371.29,338.76 372.38,337.19 373.47,335.75 374.55,334.43 375.64,333.22 376.73,332.13 377.82,331.15 378.91,330.27 380.00,329.48 381.09,328.77 382.18,328.14 383.27,327.58 384.36,327.08 385.45,326.64 386.54,326.25 387.63,325.90 388.72,325.60 389.81,325.33 390.89,325.09 391.98,324.88 393.07,324.70 394.16,324.54 395.25,324.40 396.34,324.28 397.43,324.17 398.52,324.07 399.61,323.99 400.70,323.92 401.79,323.85 402.88,323.80 403.97,323.75 405.06,323.70 406.15,323.67 407.24,323.63 408.32,323.61 409.41,323.58 410.50,323.56 411.59,323.54 412.68,323.52 413.77,323.51 414.86,323.49 415.95,323.48 417.04,323.47 418.13,323.46 419.22,323.46 420.31,323.45 421.40,323.44 422.49,323.44 423.58,323.44 424.67,323.43 425.75,323.43 426.84,323.43 427.93,323.42 429.02,323.42 430.11,323.42 431.20,323.42 432.29,323.42 433.38,323.41 434.47,323.41 435.56,323.41 436.65,323.41 437.74,323.41 438.83,323.41 439.92,323.41 441.01,323.41 442.10,323.41 443.19,323.41 444.27,323.41 445.36,323.41 446.45,323.41 447.54,323.41 448.63,323.41 449.72,323.41 450.81,323.41 451.90,323.41" fill="none" stroke="#fa3ce6" stroke-width="1.6" stroke-linejoin="round"/>
<rect x="318.32" y="394.75" width="5.70" height="5.70" fill="#fa3ce6"/>
<rect x="337.00" y="386.60" width="5.70" height="5.70" fill="#fa3ce6"/>
<rect x="355.67" y="361.89" width="5.70" height="5.70" fill="#fa3ce6"/>
<rect x="374.35" y="337.84" width="5.70" height="5.70" fill="#fa3ce6"/>
<rect x="393.02" y="325.04" width="5.70" height="5.70" fill="#fa3ce6"/>
<rect x="411.70" y="318.68" width="5.70" height="5.70" fill="#fa3ce6"/>
<rect x="430.38" y="316.27" width="5.70" height="5.70" fill="#fa3ce6"/>
<rect x="449.05" y="314.85" width="5.70" height="5.70" fill="#fa3ce6"/>
<line x1="414.55" y1="394.75" x2="414.55" y2="392.30" stroke="#0a14ff" stroke-width="1"/>
<line x1="433.23" y1="392.10" x2="433.23" y2="383.94" stroke="#0a14ff" stroke-width="1"/>
<line x1="451.90" y1="390.47" x2="451.90" y2="387.20" stroke="#0a14ff" stroke-width="1"/>
<polyline points="321.18,397.60 322.26,397.60 323.35,397.60 324.44,397.60 325.53,397.60 326.62,397.60 327.71,397.60 328.80,397.60 329.89,397.60 330.98,397.60 332.07,397.60 333.16,397.60 334.25,397.60 335.34,397.60 336.43,397.60 337.52,397.60 338.61,397.60 339.69,397.60 340.78,397.60 341.87,397.60 342.96,397.60 344.05,397.60 345.14,397.60 346.23,397.60 347.32,397.60 348.41,397.60 349.50,397.60 350.59,397.60 351.68,397.60 352.77,397.60 353.86,397.60 354.95,397.60 356.04,397.60 357.12,397.60 358.21,397.60 359.30,397.60 360.39,397.60 361.48,397.60 362.57,397.60 363.66,397.60 364.75,397.60 365.84,397.60 366.93,397.60 368.02,397.60 369.11,397.59 370.20,397.59 371.29,397.59 372.38,397.59 373.47,397.59 374.55,397.59 375.64,397.58 376.73,397.58 377.82,397.58 378.91,397.58 380.00,397.57 381.09,397.57 382.18,397.56 383.27,397.55 384.36,397.55 385.45,397.54 386.54,397.52 387.63,397.51 388.72,397.50 389.81,397.48 390.89,397.46 391.98,397.43 393.07,397.40 394.16,397.37 395.25,397.33 396.34,397.29 397.43,397.23 398.52,397.17 399.61,397.10 400.70,397.02 401.79,396.92 402.88,396.82 403.97,396.69 405.06,396.55 406.15,396.39 407.24,396.21 408.32,396.01 409.41,395.78 410.50,395.53 411.59,395.26 412.68,394.96 413.77,394.64 414.86,394.30 415.95,393.95 417.04,393.58 418.13,393.20 419.22,392.81 420.31,392.42 421.40,392.04 422.49,391.67 423.58,391.32 424.67,390.98 425.75,390.66 426.84,390.36 427.93,390.09 429.02,389.84 430.11,389.61 431.20,389.41 432.29,389.23 433.38,389.07 434.47,388.93 435.56,388.80 436.65,388.70 437.74,388.60 438.83,388.52 439.92,388.45 441.01,388.39 442.10,388.33 443.19,388.29 444.27,388.25 445.36,388.22 446.45,388.19 447.54,388.16 448.63,388.14 449.72,388.12 450.81,388.11 451.90,388.10" fill="none" stroke="#0a14ff" stroke-width="1.6" stroke-linejoin="round"/>
<circle cx="321.18" cy="397.60" r="3.00" fill="#0a14ff"/>
<circle cx="339.85" cy="397.60" r="3.00" fill="#0a14ff"/>
<circle cx="358.52" cy="397.19" r="3.00" fill="#0a14ff"/>
<circle cx="377.20" cy="397.19" r="3.00" fill="#0a14ff"/>
<circle cx="395.88" cy="397.19" r="3.00" fill="#0a14ff"/>
<circle cx="414.55" cy="393.52" r="3.00" fill="#0a14ff"/>
<circle cx="433.23" cy="388.02" r="3.00" fill="#0a14ff"/>
<circle cx="451.90" cy="388.84" r="3.00" fill="#0a14ff"/>
<line x1="462.7" y1="48.20" x2="475.6" y2="48.20" stroke="#111111" stroke-width="1.7"/>
<circle cx="469.20" cy="48.20" r="3.00" fill="#111111"/>
<text x="483.2" y="51.60" font-size="10" fill="#222" stroke="#222" stroke-width="0.25">Parental Cells</text>
<line x1="462.7" y1="64.77" x2="475.6" y2="64.77" stroke="#fa3ce6" stroke-width="1.7"/>
<rect x="466.35" y="61.92" width="5.70" height="5.70" fill="#fa3ce6"/>
<text x="483.2" y="68.17" font-size="10" fill="#222" stroke="#222" stroke-width="0.25">GRK2 KO</text>
<line x1="462.7" y1="81.34" x2="475.6" y2="81.34" stroke="#ff1a1a" stroke-width="1.7"/>
<path d="M466.00,83.34L472.40,83.34L469.20,77.94Z" fill="#ff1a1a"/>
<text x="483.2" y="84.74" font-size="10" fill="#222" stroke="#222" stroke-width="0.25">GRK3 KO</text>
<line x1="462.7" y1="97.91" x2="475.6" y2="97.91" stroke="#1fb51f" stroke-width="1.7"/>
<polygon points="469.20,94.61 470.02,96.78 472.34,96.89 470.53,98.34 471.14,100.58 469.20,99.31 467.26,100.58 467.87,98.34 466.06,96.89 468.38,96.78" fill="#1fb51f"/>
<text x="483.2" y="101.31" font-size="10" fill="#222" stroke="#222" stroke-width="0.25">GRK2/3 KO</text>
<line x1="462.7" y1="114.48" x2="475.6" y2="114.48" stroke="#ff7a14" stroke-width="1.7"/>
<path d="M466.00,112.48L472.40,112.48L469.20,117.88Z" fill="#ff7a14"/>
<text x="483.2" y="117.88" font-size="10" fill="#222" stroke="#222" stroke-width="0.25">GRK5 KO</text>
<line x1="461.5" y1="131.05" x2="474.40000000000003" y2="131.05" stroke="#2196f3" stroke-width="1.7"/>
<path d="M465.00,131.05L468.00,128.05L471.00,131.05L468.00,134.05Z" fill="#2196f3"/>
<text x="482.0" y="134.45" font-size="10" fill="#222" stroke="#222" stroke-width="0.25">GRK6 KO</text>
<line x1="462.7" y1="147.62" x2="475.6" y2="147.62" stroke="#7f7f7f" stroke-width="1.7"/>
<path d="M466.80,145.22L471.60,150.02M466.80,150.02L471.60,145.22" stroke="#7f7f7f" stroke-width="1.3" fill="none"/>
<text x="483.2" y="151.02" font-size="10" fill="#222" stroke="#222" stroke-width="0.25">GRK 5/6 KO</text>
<line x1="462.7" y1="164.19" x2="475.6" y2="164.19" stroke="#0a14ff" stroke-width="1.7"/>
<circle cx="469.20" cy="164.19" r="3.00" fill="#0a14ff"/>
<text x="483.2" y="167.59" font-size="10" fill="#222" stroke="#222" stroke-width="0.25">ΔQ-GRK KO</text>
<line x1="473.4" y1="307.30" x2="486.9" y2="307.30" stroke="#0a14ff" stroke-width="1.7"/>
<circle cx="480.10" cy="307.30" r="3.00" fill="#0a14ff"/>
<text x="494.1" y="311.20" font-size="10" fill="#222" stroke="#222" stroke-width="0.25">+ pcDNA</text>
<line x1="473.4" y1="321.40" x2="486.9" y2="321.40" stroke="#fa3ce6" stroke-width="1.7"/>
<rect x="477.25" y="318.55" width="5.70" height="5.70" fill="#fa3ce6"/>
<text x="494.1" y="325.30" font-size="10" fill="#222" stroke="#222" stroke-width="0.25">+ GRK2</text>
<line x1="473.4" y1="335.50" x2="486.9" y2="335.50" stroke="#ff1a1a" stroke-width="1.7"/>
<path d="M476.90,337.50L483.30,337.50L480.10,332.10Z" fill="#ff1a1a"/>
<text x="494.1" y="339.40" font-size="10" fill="#222" stroke="#222" stroke-width="0.25">+ GRK3</text>
<line x1="473.4" y1="349.60" x2="486.9" y2="349.60" stroke="#ff7a14" stroke-width="1.7"/>
<path d="M476.90,347.60L483.30,347.60L480.10,353.00Z" fill="#ff7a14"/>
<text x="494.1" y="353.50" font-size="10" fill="#222" stroke="#222" stroke-width="0.25">+ GRK5</text>
<line x1="473.4" y1="363.70" x2="486.9" y2="363.70" stroke="#2196f3" stroke-width="1.7"/>
<path d="M477.10,363.70L480.10,360.70L483.10,363.70L480.10,366.70Z" fill="#2196f3"/>
<text x="494.1" y="367.60" font-size="10" fill="#222" stroke="#222" stroke-width="0.25">+ GRK6</text>
</svg>
</body></html>
